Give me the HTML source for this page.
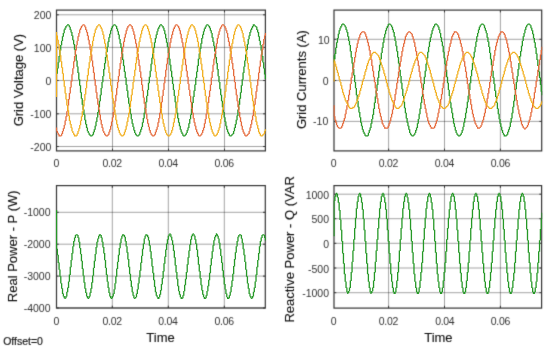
<!DOCTYPE html>
<html><head><meta charset="utf-8"><title>Scope</title>
<style>html,body{margin:0;padding:0;background:#fff;width:550px;height:352px;overflow:hidden}svg{display:block}</style>
</head><body>
<svg width="550" height="352" viewBox="0 0 550 352" font-family="Liberation Sans, Arial, sans-serif"><defs><filter id="bf" filterUnits="userSpaceOnUse" x="0" y="0" width="550" height="352" color-interpolation-filters="sRGB"><feConvolveMatrix order="3" kernelMatrix="0.0144 0.0912 0.0144 0.0912 0.5776 0.0912 0.0144 0.0912 0.0144" divisor="1" edgeMode="duplicate" preserveAlpha="true"/></filter><clipPath id="ctl"><rect x="55.90" y="9.50" width="210.10" height="142.00"/></clipPath><clipPath id="ctr"><rect x="333.40" y="9.50" width="208.90" height="142.00"/></clipPath><clipPath id="cbl"><rect x="55.90" y="185.00" width="210.00" height="123.60"/></clipPath><clipPath id="cbr"><rect x="333.40" y="185.00" width="208.80" height="123.70"/></clipPath></defs><g filter="url(#bf)"><rect width="550" height="352" fill="#fff"/><line x1="56.50" y1="14.80" x2="265.40" y2="14.80" stroke="#000" stroke-width="1.0" stroke-opacity="0.36"/>
<line x1="56.50" y1="47.40" x2="265.40" y2="47.40" stroke="#000" stroke-width="1.0" stroke-opacity="0.36"/>
<line x1="56.50" y1="80.50" x2="265.40" y2="80.50" stroke="#000" stroke-width="1.0" stroke-opacity="0.36"/>
<line x1="56.50" y1="113.80" x2="265.40" y2="113.80" stroke="#000" stroke-width="1.0" stroke-opacity="0.36"/>
<line x1="56.50" y1="146.50" x2="265.40" y2="146.50" stroke="#000" stroke-width="1.0" stroke-opacity="0.36"/>
<line x1="112.50" y1="10.10" x2="112.50" y2="150.90" stroke="#000" stroke-width="1.0" stroke-opacity="0.36"/>
<line x1="168.50" y1="10.10" x2="168.50" y2="150.90" stroke="#000" stroke-width="1.0" stroke-opacity="0.36"/>
<line x1="224.50" y1="10.10" x2="224.50" y2="150.90" stroke="#000" stroke-width="1.0" stroke-opacity="0.36"/>
<line x1="334.00" y1="39.30" x2="541.70" y2="39.30" stroke="#000" stroke-width="1.0" stroke-opacity="0.36"/>
<line x1="334.00" y1="80.50" x2="541.70" y2="80.50" stroke="#000" stroke-width="1.0" stroke-opacity="0.36"/>
<line x1="334.00" y1="121.40" x2="541.70" y2="121.40" stroke="#000" stroke-width="1.0" stroke-opacity="0.36"/>
<line x1="388.60" y1="10.10" x2="388.60" y2="150.90" stroke="#000" stroke-width="1.0" stroke-opacity="0.36"/>
<line x1="444.50" y1="10.10" x2="444.50" y2="150.90" stroke="#000" stroke-width="1.0" stroke-opacity="0.36"/>
<line x1="500.40" y1="10.10" x2="500.40" y2="150.90" stroke="#000" stroke-width="1.0" stroke-opacity="0.36"/>
<line x1="56.50" y1="212.30" x2="265.30" y2="212.30" stroke="#000" stroke-width="1.0" stroke-opacity="0.36"/>
<line x1="56.50" y1="244.20" x2="265.30" y2="244.20" stroke="#000" stroke-width="1.0" stroke-opacity="0.36"/>
<line x1="56.50" y1="276.10" x2="265.30" y2="276.10" stroke="#000" stroke-width="1.0" stroke-opacity="0.36"/>
<line x1="56.50" y1="308.00" x2="265.30" y2="308.00" stroke="#000" stroke-width="1.0" stroke-opacity="0.36"/>
<line x1="112.30" y1="185.60" x2="112.30" y2="308.00" stroke="#000" stroke-width="1.0" stroke-opacity="0.36"/>
<line x1="168.30" y1="185.60" x2="168.30" y2="308.00" stroke="#000" stroke-width="1.0" stroke-opacity="0.36"/>
<line x1="224.30" y1="185.60" x2="224.30" y2="308.00" stroke="#000" stroke-width="1.0" stroke-opacity="0.36"/>
<line x1="334.00" y1="194.20" x2="541.60" y2="194.20" stroke="#000" stroke-width="1.0" stroke-opacity="0.36"/>
<line x1="334.00" y1="218.70" x2="541.60" y2="218.70" stroke="#000" stroke-width="1.0" stroke-opacity="0.36"/>
<line x1="334.00" y1="243.30" x2="541.60" y2="243.30" stroke="#000" stroke-width="1.0" stroke-opacity="0.36"/>
<line x1="334.00" y1="268.00" x2="541.60" y2="268.00" stroke="#000" stroke-width="1.0" stroke-opacity="0.36"/>
<line x1="334.00" y1="292.70" x2="541.60" y2="292.70" stroke="#000" stroke-width="1.0" stroke-opacity="0.36"/>
<line x1="388.60" y1="185.60" x2="388.60" y2="308.10" stroke="#000" stroke-width="1.0" stroke-opacity="0.36"/>
<line x1="444.50" y1="185.60" x2="444.50" y2="308.10" stroke="#000" stroke-width="1.0" stroke-opacity="0.36"/>
<line x1="500.40" y1="185.60" x2="500.40" y2="308.10" stroke="#000" stroke-width="1.0" stroke-opacity="0.36"/>
<line x1="56.50" y1="14.80" x2="58.80" y2="14.80" stroke="#333" stroke-width="1.0"/>
<line x1="263.10" y1="14.80" x2="265.40" y2="14.80" stroke="#333" stroke-width="1.0"/>
<line x1="56.50" y1="47.40" x2="58.80" y2="47.40" stroke="#333" stroke-width="1.0"/>
<line x1="263.10" y1="47.40" x2="265.40" y2="47.40" stroke="#333" stroke-width="1.0"/>
<line x1="56.50" y1="80.50" x2="58.80" y2="80.50" stroke="#333" stroke-width="1.0"/>
<line x1="263.10" y1="80.50" x2="265.40" y2="80.50" stroke="#333" stroke-width="1.0"/>
<line x1="56.50" y1="113.80" x2="58.80" y2="113.80" stroke="#333" stroke-width="1.0"/>
<line x1="263.10" y1="113.80" x2="265.40" y2="113.80" stroke="#333" stroke-width="1.0"/>
<line x1="56.50" y1="146.50" x2="58.80" y2="146.50" stroke="#333" stroke-width="1.0"/>
<line x1="263.10" y1="146.50" x2="265.40" y2="146.50" stroke="#333" stroke-width="1.0"/>
<line x1="112.50" y1="10.10" x2="112.50" y2="12.40" stroke="#333" stroke-width="1.0"/>
<line x1="112.50" y1="148.60" x2="112.50" y2="150.90" stroke="#333" stroke-width="1.0"/>
<line x1="168.50" y1="10.10" x2="168.50" y2="12.40" stroke="#333" stroke-width="1.0"/>
<line x1="168.50" y1="148.60" x2="168.50" y2="150.90" stroke="#333" stroke-width="1.0"/>
<line x1="224.50" y1="10.10" x2="224.50" y2="12.40" stroke="#333" stroke-width="1.0"/>
<line x1="224.50" y1="148.60" x2="224.50" y2="150.90" stroke="#333" stroke-width="1.0"/>
<line x1="334.00" y1="39.30" x2="336.30" y2="39.30" stroke="#333" stroke-width="1.0"/>
<line x1="539.40" y1="39.30" x2="541.70" y2="39.30" stroke="#333" stroke-width="1.0"/>
<line x1="334.00" y1="80.50" x2="336.30" y2="80.50" stroke="#333" stroke-width="1.0"/>
<line x1="539.40" y1="80.50" x2="541.70" y2="80.50" stroke="#333" stroke-width="1.0"/>
<line x1="334.00" y1="121.40" x2="336.30" y2="121.40" stroke="#333" stroke-width="1.0"/>
<line x1="539.40" y1="121.40" x2="541.70" y2="121.40" stroke="#333" stroke-width="1.0"/>
<line x1="388.60" y1="10.10" x2="388.60" y2="12.40" stroke="#333" stroke-width="1.0"/>
<line x1="388.60" y1="148.60" x2="388.60" y2="150.90" stroke="#333" stroke-width="1.0"/>
<line x1="444.50" y1="10.10" x2="444.50" y2="12.40" stroke="#333" stroke-width="1.0"/>
<line x1="444.50" y1="148.60" x2="444.50" y2="150.90" stroke="#333" stroke-width="1.0"/>
<line x1="500.40" y1="10.10" x2="500.40" y2="12.40" stroke="#333" stroke-width="1.0"/>
<line x1="500.40" y1="148.60" x2="500.40" y2="150.90" stroke="#333" stroke-width="1.0"/>
<line x1="56.50" y1="212.30" x2="58.80" y2="212.30" stroke="#333" stroke-width="1.0"/>
<line x1="263.00" y1="212.30" x2="265.30" y2="212.30" stroke="#333" stroke-width="1.0"/>
<line x1="56.50" y1="244.20" x2="58.80" y2="244.20" stroke="#333" stroke-width="1.0"/>
<line x1="263.00" y1="244.20" x2="265.30" y2="244.20" stroke="#333" stroke-width="1.0"/>
<line x1="56.50" y1="276.10" x2="58.80" y2="276.10" stroke="#333" stroke-width="1.0"/>
<line x1="263.00" y1="276.10" x2="265.30" y2="276.10" stroke="#333" stroke-width="1.0"/>
<line x1="56.50" y1="308.00" x2="58.80" y2="308.00" stroke="#333" stroke-width="1.0"/>
<line x1="263.00" y1="308.00" x2="265.30" y2="308.00" stroke="#333" stroke-width="1.0"/>
<line x1="112.30" y1="185.60" x2="112.30" y2="187.90" stroke="#333" stroke-width="1.0"/>
<line x1="112.30" y1="305.70" x2="112.30" y2="308.00" stroke="#333" stroke-width="1.0"/>
<line x1="168.30" y1="185.60" x2="168.30" y2="187.90" stroke="#333" stroke-width="1.0"/>
<line x1="168.30" y1="305.70" x2="168.30" y2="308.00" stroke="#333" stroke-width="1.0"/>
<line x1="224.30" y1="185.60" x2="224.30" y2="187.90" stroke="#333" stroke-width="1.0"/>
<line x1="224.30" y1="305.70" x2="224.30" y2="308.00" stroke="#333" stroke-width="1.0"/>
<line x1="334.00" y1="194.20" x2="336.30" y2="194.20" stroke="#333" stroke-width="1.0"/>
<line x1="539.30" y1="194.20" x2="541.60" y2="194.20" stroke="#333" stroke-width="1.0"/>
<line x1="334.00" y1="218.70" x2="336.30" y2="218.70" stroke="#333" stroke-width="1.0"/>
<line x1="539.30" y1="218.70" x2="541.60" y2="218.70" stroke="#333" stroke-width="1.0"/>
<line x1="334.00" y1="243.30" x2="336.30" y2="243.30" stroke="#333" stroke-width="1.0"/>
<line x1="539.30" y1="243.30" x2="541.60" y2="243.30" stroke="#333" stroke-width="1.0"/>
<line x1="334.00" y1="268.00" x2="336.30" y2="268.00" stroke="#333" stroke-width="1.0"/>
<line x1="539.30" y1="268.00" x2="541.60" y2="268.00" stroke="#333" stroke-width="1.0"/>
<line x1="334.00" y1="292.70" x2="336.30" y2="292.70" stroke="#333" stroke-width="1.0"/>
<line x1="539.30" y1="292.70" x2="541.60" y2="292.70" stroke="#333" stroke-width="1.0"/>
<line x1="388.60" y1="185.60" x2="388.60" y2="187.90" stroke="#333" stroke-width="1.0"/>
<line x1="388.60" y1="305.80" x2="388.60" y2="308.10" stroke="#333" stroke-width="1.0"/>
<line x1="444.50" y1="185.60" x2="444.50" y2="187.90" stroke="#333" stroke-width="1.0"/>
<line x1="444.50" y1="305.80" x2="444.50" y2="308.10" stroke="#333" stroke-width="1.0"/>
<line x1="500.40" y1="185.60" x2="500.40" y2="187.90" stroke="#333" stroke-width="1.0"/>
<line x1="500.40" y1="305.80" x2="500.40" y2="308.10" stroke="#333" stroke-width="1.0"/>
<rect x="56.50" y="10.10" width="208.90" height="140.80" fill="none" stroke="#333333" stroke-width="1.2"/>
<rect x="334.00" y="10.10" width="207.70" height="140.80" fill="none" stroke="#333333" stroke-width="1.2"/>
<rect x="56.50" y="185.60" width="208.80" height="122.40" fill="none" stroke="#333333" stroke-width="1.2"/>
<rect x="334.00" y="185.60" width="207.60" height="122.50" fill="none" stroke="#333333" stroke-width="1.2"/>
<text transform="translate(51.30,18.60) scale(1,0.96)" font-size="10.5" fill="#333333" text-anchor="end" >200</text>
<text transform="translate(51.30,51.50) scale(1,0.96)" font-size="10.5" fill="#333333" text-anchor="end" >100</text>
<text transform="translate(51.30,84.60) scale(1,0.96)" font-size="10.5" fill="#333333" text-anchor="end" >0</text>
<text transform="translate(51.30,117.90) scale(1,0.96)" font-size="10.5" fill="#333333" text-anchor="end" >-100</text>
<text transform="translate(51.30,150.60) scale(1,0.96)" font-size="10.5" fill="#333333" text-anchor="end" >-200</text>
<text transform="translate(329.70,44.30) scale(1,0.96)" font-size="10.5" fill="#333333" text-anchor="end" >10</text>
<text transform="translate(328.50,84.75) scale(1,0.96)" font-size="10.5" fill="#333333" text-anchor="end" >0</text>
<text transform="translate(328.30,124.60) scale(1,0.96)" font-size="10.5" fill="#333333" text-anchor="end" >-10</text>
<text transform="translate(50.50,216.40) scale(1,0.96)" font-size="10.5" fill="#333333" text-anchor="end" >-1000</text>
<text transform="translate(50.50,248.30) scale(1,0.96)" font-size="10.5" fill="#333333" text-anchor="end" >-2000</text>
<text transform="translate(50.50,280.20) scale(1,0.96)" font-size="10.5" fill="#333333" text-anchor="end" >-3000</text>
<text transform="translate(50.50,312.10) scale(1,0.96)" font-size="10.5" fill="#333333" text-anchor="end" >-4000</text>
<text transform="translate(329.00,199.00) scale(1,0.96)" font-size="10.5" fill="#333333" text-anchor="end" >1000</text>
<text transform="translate(329.00,223.30) scale(1,0.96)" font-size="10.5" fill="#333333" text-anchor="end" >500</text>
<text transform="translate(329.00,247.90) scale(1,0.96)" font-size="10.5" fill="#333333" text-anchor="end" >0</text>
<text transform="translate(329.00,272.50) scale(1,0.96)" font-size="10.5" fill="#333333" text-anchor="end" >-500</text>
<text transform="translate(329.00,297.10) scale(1,0.96)" font-size="10.5" fill="#333333" text-anchor="end" >-1000</text>
<text transform="translate(56.35,166.95) scale(1,0.96)" font-size="10.5" fill="#333333" text-anchor="middle" letter-spacing="-0.3">0</text>
<text transform="translate(112.15,166.95) scale(1,0.96)" font-size="10.5" fill="#333333" text-anchor="middle" letter-spacing="-0.3">0.02</text>
<text transform="translate(168.15,166.95) scale(1,0.96)" font-size="10.5" fill="#333333" text-anchor="middle" letter-spacing="-0.3">0.04</text>
<text transform="translate(224.15,166.95) scale(1,0.96)" font-size="10.5" fill="#333333" text-anchor="middle" letter-spacing="-0.3">0.06</text>
<text transform="translate(333.45,166.95) scale(1,0.96)" font-size="10.5" fill="#333333" text-anchor="middle" letter-spacing="-0.3">0</text>
<text transform="translate(388.45,166.95) scale(1,0.96)" font-size="10.5" fill="#333333" text-anchor="middle" letter-spacing="-0.3">0.02</text>
<text transform="translate(444.45,166.95) scale(1,0.96)" font-size="10.5" fill="#333333" text-anchor="middle" letter-spacing="-0.3">0.04</text>
<text transform="translate(500.45,166.95) scale(1,0.96)" font-size="10.5" fill="#333333" text-anchor="middle" letter-spacing="-0.3">0.06</text>
<text transform="translate(56.35,324.95) scale(1,0.96)" font-size="10.5" fill="#333333" text-anchor="middle" letter-spacing="-0.3">0</text>
<text transform="translate(112.15,324.95) scale(1,0.96)" font-size="10.5" fill="#333333" text-anchor="middle" letter-spacing="-0.3">0.02</text>
<text transform="translate(167.95,324.95) scale(1,0.96)" font-size="10.5" fill="#333333" text-anchor="middle" letter-spacing="-0.3">0.04</text>
<text transform="translate(224.15,324.95) scale(1,0.96)" font-size="10.5" fill="#333333" text-anchor="middle" letter-spacing="-0.3">0.06</text>
<text transform="translate(333.45,324.95) scale(1,0.96)" font-size="10.5" fill="#333333" text-anchor="middle" letter-spacing="-0.3">0</text>
<text transform="translate(388.45,324.95) scale(1,0.96)" font-size="10.5" fill="#333333" text-anchor="middle" letter-spacing="-0.3">0.02</text>
<text transform="translate(444.75,324.95) scale(1,0.96)" font-size="10.5" fill="#333333" text-anchor="middle" letter-spacing="-0.3">0.04</text>
<text transform="translate(500.45,324.95) scale(1,0.96)" font-size="10.5" fill="#333333" text-anchor="middle" letter-spacing="-0.3">0.06</text>
<text transform="translate(23.4,80.1) rotate(-90)" font-size="13" fill="#111111" text-anchor="middle" stroke="#111111" stroke-width="0.12">Grid Voltage (V)</text>
<text transform="translate(306.0,79.6) rotate(-90)" font-size="13" fill="#111111" text-anchor="middle" stroke="#111111" stroke-width="0.12">Grid Currents (A)</text>
<text transform="translate(17.0,246.3) rotate(-90)" font-size="13" fill="#111111" text-anchor="middle" stroke="#111111" stroke-width="0.12">Real Power - P (W)</text>
<text transform="translate(294.2,322.6) rotate(-90)" font-size="13" fill="#111111" text-anchor="start" stroke="#111111" stroke-width="0.12">Reactive Power - Q (VAR</text>
<text x="160.50" y="342.20" font-size="13" fill="#111111" text-anchor="middle" stroke="#111111" stroke-width="0.12" >Time</text>
<text x="438.40" y="342.30" font-size="13" fill="#111111" text-anchor="middle" stroke="#111111" stroke-width="0.12" >Time</text>
<text transform="translate(3.20,344.50) scale(1,0.96)" font-size="10.5" fill="#1a1a1a" text-anchor="start" stroke="#1a1a1a" stroke-width="0.2" >Offset=0</text></g><g><path d="M56.65 68.15h1.3v5.60h-1.3zM57.51 62.13h1.3v6.46h-1.3zM58.37 56.11h1.3v6.46h-1.3zM59.23 50.09h1.3v6.46h-1.3zM60.09 44.93h1.3v5.60h-1.3zM60.95 40.63h1.3v4.74h-1.3zM61.81 36.33h1.3v4.74h-1.3zM62.67 32.89h1.3v3.88h-1.3zM63.53 29.45h1.3v3.88h-1.3zM64.39 27.73h1.3v2.16h-1.3zM65.25 26.01h1.3v2.16h-1.3zM66.11 25.15h1.3v1.30h-1.3zM66.97 24.29h1.3v1.30h-1.3zM67.83 24.29h1.3v1.30h-1.3zM68.69 25.15h1.3v2.16h-1.3zM69.55 26.87h1.3v3.02h-1.3zM70.41 29.45h1.3v3.02h-1.3zM71.27 32.03h1.3v3.88h-1.3zM72.13 35.47h1.3v4.74h-1.3zM72.99 39.77h1.3v4.74h-1.3zM73.85 44.07h1.3v5.60h-1.3zM74.71 49.23h1.3v5.60h-1.3zM75.57 54.39h1.3v6.46h-1.3zM76.43 60.41h1.3v6.46h-1.3zM77.29 66.43h1.3v6.46h-1.3zM78.15 72.45h1.3v7.32h-1.3zM79.01 79.33h1.3v6.46h-1.3zM79.87 85.35h1.3v7.32h-1.3zM80.73 92.23h1.3v6.46h-1.3zM81.59 98.25h1.3v6.46h-1.3zM82.45 104.27h1.3v5.60h-1.3zM83.31 109.43h1.3v5.60h-1.3zM84.17 114.59h1.3v5.60h-1.3zM85.03 119.75h1.3v4.74h-1.3zM85.89 124.05h1.3v3.88h-1.3zM86.75 127.49h1.3v3.88h-1.3zM87.61 130.93h1.3v2.16h-1.3zM88.47 132.65h1.3v2.16h-1.3zM89.33 134.37h1.3v1.30h-1.3zM90.19 135.23h1.3v1.30h-1.3zM91.05 135.23h1.3v1.30h-1.3zM91.91 134.37h1.3v1.30h-1.3zM92.77 131.79h1.3v3.02h-1.3zM93.63 129.21h1.3v3.02h-1.3zM94.49 125.77h1.3v3.88h-1.3zM95.35 121.47h1.3v4.74h-1.3zM96.21 117.17h1.3v4.74h-1.3zM97.07 112.01h1.3v5.60h-1.3zM97.93 106.85h1.3v5.60h-1.3zM98.79 100.83h1.3v6.46h-1.3zM99.65 94.81h1.3v6.46h-1.3zM100.51 87.93h1.3v7.32h-1.3zM101.37 81.91h1.3v6.46h-1.3zM102.23 75.89h1.3v6.46h-1.3zM103.09 69.01h1.3v7.32h-1.3zM103.95 62.99h1.3v6.46h-1.3zM104.81 56.97h1.3v6.46h-1.3zM105.67 51.81h1.3v5.60h-1.3zM106.53 46.65h1.3v5.60h-1.3zM107.39 41.49h1.3v5.60h-1.3zM108.25 37.19h1.3v4.74h-1.3zM109.11 33.75h1.3v3.88h-1.3zM109.97 30.31h1.3v3.88h-1.3zM110.83 27.73h1.3v3.02h-1.3zM111.69 26.01h1.3v2.16h-1.3zM112.55 25.15h1.3v1.30h-1.3zM113.41 24.29h1.3v1.30h-1.3zM114.27 24.29h1.3v1.30h-1.3zM115.13 25.15h1.3v1.30h-1.3zM115.99 26.01h1.3v3.02h-1.3zM116.85 28.59h1.3v3.02h-1.3zM117.71 31.17h1.3v3.88h-1.3zM118.57 34.61h1.3v4.74h-1.3zM119.43 38.91h1.3v4.74h-1.3zM120.29 43.21h1.3v4.74h-1.3zM121.15 47.51h1.3v6.46h-1.3zM122.01 53.53h1.3v6.46h-1.3zM122.87 59.55h1.3v6.46h-1.3zM123.73 65.57h1.3v6.46h-1.3zM124.59 71.59h1.3v6.46h-1.3zM125.45 77.61h1.3v7.32h-1.3zM126.31 84.49h1.3v6.46h-1.3zM127.17 90.51h1.3v7.32h-1.3zM128.03 97.39h1.3v6.46h-1.3zM128.89 103.41h1.3v5.60h-1.3zM129.75 108.57h1.3v5.60h-1.3zM130.61 113.73h1.3v5.60h-1.3zM131.47 118.89h1.3v4.74h-1.3zM132.33 123.19h1.3v3.88h-1.3zM133.19 126.63h1.3v3.88h-1.3zM134.05 130.07h1.3v3.02h-1.3zM134.91 132.65h1.3v2.16h-1.3zM135.77 134.37h1.3v1.30h-1.3zM136.63 135.23h1.3v1.30h-1.3zM137.49 135.23h1.3v1.30h-1.3zM138.35 134.37h1.3v1.30h-1.3zM139.21 131.79h1.3v3.02h-1.3zM140.07 129.21h1.3v3.02h-1.3zM140.93 126.63h1.3v3.02h-1.3zM141.79 122.33h1.3v4.74h-1.3zM142.65 118.03h1.3v4.74h-1.3zM143.51 112.87h1.3v5.60h-1.3zM144.37 107.71h1.3v5.60h-1.3zM145.23 101.69h1.3v6.46h-1.3zM146.09 95.67h1.3v6.46h-1.3zM146.95 89.65h1.3v6.46h-1.3zM147.81 82.77h1.3v7.32h-1.3zM148.67 76.75h1.3v6.46h-1.3zM149.53 70.73h1.3v6.46h-1.3zM150.39 63.85h1.3v7.32h-1.3zM151.25 57.83h1.3v6.46h-1.3zM152.11 52.67h1.3v5.60h-1.3zM152.97 47.51h1.3v5.60h-1.3zM153.83 42.35h1.3v5.60h-1.3zM154.69 38.05h1.3v4.74h-1.3zM155.55 34.61h1.3v3.88h-1.3zM156.41 31.17h1.3v3.88h-1.3zM157.27 28.59h1.3v3.02h-1.3zM158.13 26.87h1.3v2.16h-1.3zM158.99 25.15h1.3v2.16h-1.3zM159.85 24.29h1.3v1.30h-1.3zM160.71 24.29h1.3v1.30h-1.3zM161.57 25.15h1.3v1.30h-1.3zM162.43 26.01h1.3v2.16h-1.3zM163.29 27.73h1.3v3.02h-1.3zM164.15 30.31h1.3v3.88h-1.3zM165.01 33.75h1.3v4.74h-1.3zM165.87 38.05h1.3v4.74h-1.3zM166.73 42.35h1.3v4.74h-1.3zM167.59 46.65h1.3v6.46h-1.3zM168.45 52.67h1.3v6.46h-1.3zM169.31 58.69h1.3v6.46h-1.3zM170.17 64.71h1.3v6.46h-1.3zM171.03 70.73h1.3v6.46h-1.3zM171.89 76.75h1.3v7.32h-1.3zM172.75 83.63h1.3v6.46h-1.3zM173.61 89.65h1.3v6.46h-1.3zM174.47 95.67h1.3v6.46h-1.3zM175.33 101.69h1.3v6.46h-1.3zM176.19 107.71h1.3v5.60h-1.3zM177.05 112.87h1.3v5.60h-1.3zM177.91 118.03h1.3v4.74h-1.3zM178.77 122.33h1.3v3.88h-1.3zM179.63 125.77h1.3v3.88h-1.3zM180.49 129.21h1.3v3.02h-1.3zM181.35 131.79h1.3v2.16h-1.3zM182.21 133.51h1.3v2.16h-1.3zM183.07 135.23h1.3v1.30h-1.3zM183.93 135.23h1.3v1.30h-1.3zM184.79 134.37h1.3v1.30h-1.3zM185.65 132.65h1.3v2.16h-1.3zM186.51 130.07h1.3v3.02h-1.3zM187.37 127.49h1.3v3.02h-1.3zM188.23 123.19h1.3v4.74h-1.3zM189.09 118.89h1.3v4.74h-1.3zM189.95 114.59h1.3v4.74h-1.3zM190.81 108.57h1.3v6.46h-1.3zM191.67 102.55h1.3v6.46h-1.3zM192.53 96.53h1.3v6.46h-1.3zM193.39 90.51h1.3v6.46h-1.3zM194.25 84.49h1.3v6.46h-1.3zM195.11 77.61h1.3v7.32h-1.3zM195.97 71.59h1.3v6.46h-1.3zM196.83 65.57h1.3v6.46h-1.3zM197.69 58.69h1.3v7.32h-1.3zM198.55 53.53h1.3v5.60h-1.3zM199.41 48.37h1.3v5.60h-1.3zM200.27 43.21h1.3v5.60h-1.3zM201.13 38.05h1.3v5.60h-1.3zM201.99 34.61h1.3v3.88h-1.3zM202.85 31.17h1.3v3.88h-1.3zM203.71 28.59h1.3v3.02h-1.3zM204.57 26.87h1.3v2.16h-1.3zM205.43 25.15h1.3v2.16h-1.3zM206.29 24.29h1.3v1.30h-1.3zM207.15 24.29h1.3v1.30h-1.3zM208.01 25.15h1.3v1.30h-1.3zM208.87 26.01h1.3v2.16h-1.3zM209.73 27.73h1.3v3.02h-1.3zM210.59 30.31h1.3v3.02h-1.3zM211.45 32.89h1.3v4.74h-1.3zM212.31 37.19h1.3v4.74h-1.3zM213.17 41.49h1.3v4.74h-1.3zM214.03 45.79h1.3v5.60h-1.3zM214.89 50.95h1.3v6.46h-1.3zM215.75 56.97h1.3v6.46h-1.3zM216.61 62.99h1.3v6.46h-1.3zM217.47 69.01h1.3v7.32h-1.3zM218.33 75.89h1.3v6.46h-1.3zM219.19 81.91h1.3v7.32h-1.3zM220.05 88.79h1.3v6.46h-1.3zM220.91 94.81h1.3v6.46h-1.3zM221.77 100.83h1.3v6.46h-1.3zM222.63 106.85h1.3v5.60h-1.3zM223.49 112.01h1.3v5.60h-1.3zM224.35 117.17h1.3v4.74h-1.3zM225.21 121.47h1.3v4.74h-1.3zM226.07 125.77h1.3v3.88h-1.3zM226.93 129.21h1.3v3.02h-1.3zM227.79 131.79h1.3v2.16h-1.3zM228.65 133.51h1.3v2.16h-1.3zM229.51 135.23h1.3v1.30h-1.3zM230.37 135.23h1.3v1.30h-1.3zM231.23 134.37h1.3v1.30h-1.3zM232.09 133.51h1.3v1.30h-1.3zM232.95 130.93h1.3v3.02h-1.3zM233.81 127.49h1.3v3.88h-1.3zM234.67 124.05h1.3v3.88h-1.3zM235.53 119.75h1.3v4.74h-1.3zM236.39 115.45h1.3v4.74h-1.3zM237.25 109.43h1.3v6.46h-1.3zM238.11 104.27h1.3v5.60h-1.3zM238.97 98.25h1.3v6.46h-1.3zM239.83 92.23h1.3v6.46h-1.3zM240.69 85.35h1.3v7.32h-1.3zM241.55 79.33h1.3v6.46h-1.3zM242.41 72.45h1.3v7.32h-1.3zM243.27 66.43h1.3v6.46h-1.3zM244.13 60.41h1.3v6.46h-1.3zM244.99 54.39h1.3v6.46h-1.3zM245.85 49.23h1.3v5.60h-1.3zM246.71 44.07h1.3v5.60h-1.3zM247.57 38.91h1.3v5.60h-1.3zM248.43 35.47h1.3v3.88h-1.3zM249.29 32.03h1.3v3.88h-1.3zM250.15 29.45h1.3v3.02h-1.3zM251.01 27.73h1.3v2.16h-1.3zM251.87 26.01h1.3v2.16h-1.3zM252.73 24.29h1.3v2.16h-1.3zM253.59 24.29h1.3v1.30h-1.3zM254.45 25.15h1.3v1.30h-1.3zM255.31 26.01h1.3v1.30h-1.3zM256.17 26.87h1.3v3.02h-1.3zM257.03 29.45h1.3v3.02h-1.3zM257.89 32.03h1.3v4.74h-1.3zM258.75 36.33h1.3v4.74h-1.3zM259.61 40.63h1.3v4.74h-1.3zM260.47 44.93h1.3v5.60h-1.3zM261.33 50.09h1.3v6.46h-1.3zM262.19 56.11h1.3v6.46h-1.3zM263.05 62.13h1.3v6.46h-1.3zM263.91 68.15h1.3v6.46h-1.3zM264.77 74.17h1.3v4.74h-1.3z" fill="#259826" clip-path="url(#ctl)"/>
<path d="M55.85 127.49h1.3v3.88h-1.3zM56.71 130.93h1.3v2.16h-1.3zM57.57 132.65h1.3v2.16h-1.3zM58.43 134.37h1.3v2.16h-1.3zM59.29 135.23h1.3v1.30h-1.3zM60.15 135.23h1.3v1.30h-1.3zM61.01 133.51h1.3v2.16h-1.3zM61.87 130.93h1.3v3.02h-1.3zM62.73 128.35h1.3v3.02h-1.3zM63.59 124.91h1.3v3.88h-1.3zM64.45 120.61h1.3v4.74h-1.3zM65.31 116.31h1.3v4.74h-1.3zM66.17 111.15h1.3v5.60h-1.3zM67.03 105.13h1.3v6.46h-1.3zM67.89 99.11h1.3v6.46h-1.3zM68.75 93.09h1.3v6.46h-1.3zM69.61 87.07h1.3v6.46h-1.3zM70.47 81.05h1.3v6.46h-1.3zM71.33 74.17h1.3v7.32h-1.3zM72.19 68.15h1.3v6.46h-1.3zM73.05 61.27h1.3v7.32h-1.3zM73.91 56.11h1.3v5.60h-1.3zM74.77 50.09h1.3v6.46h-1.3zM75.63 44.93h1.3v5.60h-1.3zM76.49 40.63h1.3v4.74h-1.3zM77.35 36.33h1.3v4.74h-1.3zM78.21 32.89h1.3v3.88h-1.3zM79.07 29.45h1.3v3.88h-1.3zM79.93 27.73h1.3v2.16h-1.3zM80.79 26.01h1.3v2.16h-1.3zM81.65 25.15h1.3v1.30h-1.3zM82.51 24.29h1.3v1.30h-1.3zM83.37 24.29h1.3v1.30h-1.3zM84.23 25.15h1.3v2.16h-1.3zM85.09 26.87h1.3v3.02h-1.3zM85.95 29.45h1.3v3.02h-1.3zM86.81 32.03h1.3v3.88h-1.3zM87.67 35.47h1.3v4.74h-1.3zM88.53 39.77h1.3v4.74h-1.3zM89.39 44.07h1.3v5.60h-1.3zM90.25 49.23h1.3v5.60h-1.3zM91.11 54.39h1.3v6.46h-1.3zM91.97 60.41h1.3v6.46h-1.3zM92.83 66.43h1.3v6.46h-1.3zM93.69 72.45h1.3v7.32h-1.3zM94.55 79.33h1.3v6.46h-1.3zM95.41 85.35h1.3v7.32h-1.3zM96.27 92.23h1.3v6.46h-1.3zM97.13 98.25h1.3v6.46h-1.3zM97.99 104.27h1.3v5.60h-1.3zM98.85 109.43h1.3v5.60h-1.3zM99.71 114.59h1.3v5.60h-1.3zM100.57 119.75h1.3v4.74h-1.3zM101.43 124.05h1.3v3.88h-1.3zM102.29 127.49h1.3v3.88h-1.3zM103.15 130.93h1.3v2.16h-1.3zM104.01 132.65h1.3v2.16h-1.3zM104.87 134.37h1.3v1.30h-1.3zM105.73 135.23h1.3v1.30h-1.3zM106.59 135.23h1.3v1.30h-1.3zM107.45 134.37h1.3v1.30h-1.3zM108.31 131.79h1.3v3.02h-1.3zM109.17 129.21h1.3v3.02h-1.3zM110.03 125.77h1.3v3.88h-1.3zM110.89 121.47h1.3v4.74h-1.3zM111.75 117.17h1.3v4.74h-1.3zM112.61 112.01h1.3v5.60h-1.3zM113.47 106.85h1.3v5.60h-1.3zM114.33 100.83h1.3v6.46h-1.3zM115.19 94.81h1.3v6.46h-1.3zM116.05 87.93h1.3v7.32h-1.3zM116.91 81.91h1.3v6.46h-1.3zM117.77 75.89h1.3v6.46h-1.3zM118.63 69.01h1.3v7.32h-1.3zM119.49 62.99h1.3v6.46h-1.3zM120.35 56.97h1.3v6.46h-1.3zM121.21 51.81h1.3v5.60h-1.3zM122.07 46.65h1.3v5.60h-1.3zM122.93 41.49h1.3v5.60h-1.3zM123.79 37.19h1.3v4.74h-1.3zM124.65 33.75h1.3v3.88h-1.3zM125.51 30.31h1.3v3.88h-1.3zM126.37 27.73h1.3v3.02h-1.3zM127.23 26.01h1.3v2.16h-1.3zM128.09 25.15h1.3v1.30h-1.3zM128.95 24.29h1.3v1.30h-1.3zM129.81 24.29h1.3v1.30h-1.3zM130.67 25.15h1.3v1.30h-1.3zM131.53 26.01h1.3v3.02h-1.3zM132.39 28.59h1.3v3.02h-1.3zM133.25 31.17h1.3v3.88h-1.3zM134.11 34.61h1.3v4.74h-1.3zM134.97 38.91h1.3v4.74h-1.3zM135.83 43.21h1.3v4.74h-1.3zM136.69 47.51h1.3v6.46h-1.3zM137.55 53.53h1.3v6.46h-1.3zM138.41 59.55h1.3v6.46h-1.3zM139.27 65.57h1.3v6.46h-1.3zM140.13 71.59h1.3v6.46h-1.3zM140.99 77.61h1.3v7.32h-1.3zM141.85 84.49h1.3v6.46h-1.3zM142.71 90.51h1.3v7.32h-1.3zM143.57 97.39h1.3v6.46h-1.3zM144.43 103.41h1.3v5.60h-1.3zM145.29 108.57h1.3v5.60h-1.3zM146.15 113.73h1.3v5.60h-1.3zM147.01 118.89h1.3v4.74h-1.3zM147.87 123.19h1.3v3.88h-1.3zM148.73 126.63h1.3v3.88h-1.3zM149.59 130.07h1.3v3.02h-1.3zM150.45 132.65h1.3v2.16h-1.3zM151.31 134.37h1.3v1.30h-1.3zM152.17 135.23h1.3v1.30h-1.3zM153.03 135.23h1.3v1.30h-1.3zM153.89 134.37h1.3v1.30h-1.3zM154.75 131.79h1.3v3.02h-1.3zM155.61 129.21h1.3v3.02h-1.3zM156.47 126.63h1.3v3.02h-1.3zM157.33 122.33h1.3v4.74h-1.3zM158.19 118.03h1.3v4.74h-1.3zM159.05 112.87h1.3v5.60h-1.3zM159.91 107.71h1.3v5.60h-1.3zM160.77 101.69h1.3v6.46h-1.3zM161.63 95.67h1.3v6.46h-1.3zM162.49 89.65h1.3v6.46h-1.3zM163.35 82.77h1.3v7.32h-1.3zM164.21 76.75h1.3v6.46h-1.3zM165.07 69.87h1.3v7.32h-1.3zM165.93 63.85h1.3v6.46h-1.3zM166.79 57.83h1.3v6.46h-1.3zM167.65 52.67h1.3v5.60h-1.3zM168.51 47.51h1.3v5.60h-1.3zM169.37 42.35h1.3v5.60h-1.3zM170.23 38.05h1.3v4.74h-1.3zM171.09 34.61h1.3v3.88h-1.3zM171.95 31.17h1.3v3.88h-1.3zM172.81 28.59h1.3v3.02h-1.3zM173.67 26.87h1.3v2.16h-1.3zM174.53 25.15h1.3v2.16h-1.3zM175.39 24.29h1.3v1.30h-1.3zM176.25 24.29h1.3v1.30h-1.3zM177.11 25.15h1.3v1.30h-1.3zM177.97 26.01h1.3v2.16h-1.3zM178.83 27.73h1.3v3.02h-1.3zM179.69 30.31h1.3v3.88h-1.3zM180.55 33.75h1.3v4.74h-1.3zM181.41 38.05h1.3v4.74h-1.3zM182.27 42.35h1.3v4.74h-1.3zM183.13 46.65h1.3v6.46h-1.3zM183.99 52.67h1.3v6.46h-1.3zM184.85 58.69h1.3v6.46h-1.3zM185.71 64.71h1.3v6.46h-1.3zM186.57 70.73h1.3v6.46h-1.3zM187.43 76.75h1.3v7.32h-1.3zM188.29 83.63h1.3v6.46h-1.3zM189.15 89.65h1.3v6.46h-1.3zM190.01 95.67h1.3v6.46h-1.3zM190.87 101.69h1.3v6.46h-1.3zM191.73 107.71h1.3v5.60h-1.3zM192.59 112.87h1.3v5.60h-1.3zM193.45 118.03h1.3v4.74h-1.3zM194.31 122.33h1.3v3.88h-1.3zM195.17 125.77h1.3v3.88h-1.3zM196.03 129.21h1.3v3.02h-1.3zM196.89 131.79h1.3v2.16h-1.3zM197.75 133.51h1.3v2.16h-1.3zM198.61 135.23h1.3v1.30h-1.3zM199.47 135.23h1.3v1.30h-1.3zM200.33 134.37h1.3v1.30h-1.3zM201.19 132.65h1.3v2.16h-1.3zM202.05 130.07h1.3v3.02h-1.3zM202.91 127.49h1.3v3.02h-1.3zM203.77 123.19h1.3v4.74h-1.3zM204.63 118.89h1.3v4.74h-1.3zM205.49 113.73h1.3v5.60h-1.3zM206.35 108.57h1.3v5.60h-1.3zM207.21 102.55h1.3v6.46h-1.3zM208.07 96.53h1.3v6.46h-1.3zM208.93 90.51h1.3v6.46h-1.3zM209.79 84.49h1.3v6.46h-1.3zM210.65 77.61h1.3v7.32h-1.3zM211.51 71.59h1.3v6.46h-1.3zM212.37 64.71h1.3v7.32h-1.3zM213.23 58.69h1.3v6.46h-1.3zM214.09 53.53h1.3v5.60h-1.3zM214.95 48.37h1.3v5.60h-1.3zM215.81 43.21h1.3v5.60h-1.3zM216.67 38.05h1.3v5.60h-1.3zM217.53 34.61h1.3v3.88h-1.3zM218.39 31.17h1.3v3.88h-1.3zM219.25 28.59h1.3v3.02h-1.3zM220.11 26.87h1.3v2.16h-1.3zM220.97 25.15h1.3v2.16h-1.3zM221.83 24.29h1.3v1.30h-1.3zM222.69 24.29h1.3v1.30h-1.3zM223.55 25.15h1.3v1.30h-1.3zM224.41 26.01h1.3v2.16h-1.3zM225.27 27.73h1.3v3.02h-1.3zM226.13 30.31h1.3v3.02h-1.3zM226.99 32.89h1.3v4.74h-1.3zM227.85 37.19h1.3v4.74h-1.3zM228.71 41.49h1.3v4.74h-1.3zM229.57 45.79h1.3v5.60h-1.3zM230.43 50.95h1.3v6.46h-1.3zM231.29 56.97h1.3v6.46h-1.3zM232.15 62.99h1.3v6.46h-1.3zM233.01 69.01h1.3v7.32h-1.3zM233.87 75.89h1.3v6.46h-1.3zM234.73 81.91h1.3v7.32h-1.3zM235.59 88.79h1.3v6.46h-1.3zM236.45 94.81h1.3v6.46h-1.3zM237.31 100.83h1.3v6.46h-1.3zM238.17 106.85h1.3v5.60h-1.3zM239.03 112.01h1.3v5.60h-1.3zM239.89 117.17h1.3v4.74h-1.3zM240.75 121.47h1.3v4.74h-1.3zM241.61 125.77h1.3v3.88h-1.3zM242.47 129.21h1.3v3.02h-1.3zM243.33 131.79h1.3v2.16h-1.3zM244.19 133.51h1.3v2.16h-1.3zM245.05 135.23h1.3v1.30h-1.3zM245.91 135.23h1.3v1.30h-1.3zM246.77 134.37h1.3v1.30h-1.3zM247.63 133.51h1.3v1.30h-1.3zM248.49 130.93h1.3v3.02h-1.3zM249.35 127.49h1.3v3.88h-1.3zM250.21 124.05h1.3v3.88h-1.3zM251.07 119.75h1.3v4.74h-1.3zM251.93 115.45h1.3v4.74h-1.3zM252.79 109.43h1.3v6.46h-1.3zM253.65 104.27h1.3v5.60h-1.3zM254.51 98.25h1.3v6.46h-1.3zM255.37 91.37h1.3v7.32h-1.3zM256.23 85.35h1.3v6.46h-1.3zM257.09 79.33h1.3v6.46h-1.3zM257.95 72.45h1.3v7.32h-1.3zM258.81 66.43h1.3v6.46h-1.3zM259.67 60.41h1.3v6.46h-1.3zM260.53 54.39h1.3v6.46h-1.3zM261.39 49.23h1.3v5.60h-1.3zM262.25 44.07h1.3v5.60h-1.3zM263.11 38.91h1.3v5.60h-1.3zM263.97 35.47h1.3v3.88h-1.3zM264.83 32.89h1.3v3.02h-1.3z" fill="#e5693a" clip-path="url(#ctl)"/>
<path d="M55.85 32.03h1.3v64.94h-1.3zM56.71 35.47h1.3v4.74h-1.3zM57.57 39.77h1.3v4.74h-1.3zM58.43 44.07h1.3v5.60h-1.3zM59.29 49.23h1.3v6.46h-1.3zM60.15 55.25h1.3v6.46h-1.3zM61.01 61.27h1.3v6.46h-1.3zM61.87 67.29h1.3v6.46h-1.3zM62.73 73.31h1.3v7.32h-1.3zM63.59 80.19h1.3v6.46h-1.3zM64.45 86.21h1.3v7.32h-1.3zM65.31 93.09h1.3v6.46h-1.3zM66.17 99.11h1.3v6.46h-1.3zM67.03 105.13h1.3v5.60h-1.3zM67.89 110.29h1.3v5.60h-1.3zM68.75 115.45h1.3v5.60h-1.3zM69.61 120.61h1.3v3.88h-1.3zM70.47 124.05h1.3v3.88h-1.3zM71.33 127.49h1.3v3.88h-1.3zM72.19 130.93h1.3v2.16h-1.3zM73.05 132.65h1.3v2.16h-1.3zM73.91 134.37h1.3v2.16h-1.3zM74.77 135.23h1.3v1.30h-1.3zM75.63 135.23h1.3v1.30h-1.3zM76.49 133.51h1.3v2.16h-1.3zM77.35 130.93h1.3v3.02h-1.3zM78.21 128.35h1.3v3.02h-1.3zM79.07 124.91h1.3v3.88h-1.3zM79.93 120.61h1.3v4.74h-1.3zM80.79 116.31h1.3v4.74h-1.3zM81.65 111.15h1.3v5.60h-1.3zM82.51 105.99h1.3v5.60h-1.3zM83.37 99.97h1.3v6.46h-1.3zM84.23 93.95h1.3v6.46h-1.3zM85.09 87.93h1.3v6.46h-1.3zM85.95 81.05h1.3v7.32h-1.3zM86.81 75.03h1.3v6.46h-1.3zM87.67 68.15h1.3v7.32h-1.3zM88.53 62.13h1.3v6.46h-1.3zM89.39 56.11h1.3v6.46h-1.3zM90.25 50.95h1.3v5.60h-1.3zM91.11 45.79h1.3v5.60h-1.3zM91.97 40.63h1.3v5.60h-1.3zM92.83 36.33h1.3v4.74h-1.3zM93.69 32.89h1.3v3.88h-1.3zM94.55 29.45h1.3v3.88h-1.3zM95.41 27.73h1.3v2.16h-1.3zM96.27 26.01h1.3v2.16h-1.3zM97.13 25.15h1.3v1.30h-1.3zM97.99 24.29h1.3v1.30h-1.3zM98.85 24.29h1.3v1.30h-1.3zM99.71 25.15h1.3v2.16h-1.3zM100.57 26.87h1.3v2.16h-1.3zM101.43 28.59h1.3v3.02h-1.3zM102.29 31.17h1.3v3.88h-1.3zM103.15 34.61h1.3v4.74h-1.3zM104.01 38.91h1.3v4.74h-1.3zM104.87 43.21h1.3v5.60h-1.3zM105.73 48.37h1.3v6.46h-1.3zM106.59 54.39h1.3v6.46h-1.3zM107.45 60.41h1.3v6.46h-1.3zM108.31 66.43h1.3v6.46h-1.3zM109.17 72.45h1.3v6.46h-1.3zM110.03 78.47h1.3v7.32h-1.3zM110.89 85.35h1.3v6.46h-1.3zM111.75 91.37h1.3v7.32h-1.3zM112.61 98.25h1.3v5.60h-1.3zM113.47 103.41h1.3v6.46h-1.3zM114.33 109.43h1.3v5.60h-1.3zM115.19 114.59h1.3v5.60h-1.3zM116.05 119.75h1.3v4.74h-1.3zM116.91 124.05h1.3v3.88h-1.3zM117.77 127.49h1.3v3.02h-1.3zM118.63 130.07h1.3v3.02h-1.3zM119.49 132.65h1.3v2.16h-1.3zM120.35 134.37h1.3v1.30h-1.3zM121.21 135.23h1.3v1.30h-1.3zM122.07 135.23h1.3v1.30h-1.3zM122.93 134.37h1.3v1.30h-1.3zM123.79 131.79h1.3v3.02h-1.3zM124.65 129.21h1.3v3.02h-1.3zM125.51 125.77h1.3v3.88h-1.3zM126.37 121.47h1.3v4.74h-1.3zM127.23 117.17h1.3v4.74h-1.3zM128.09 112.87h1.3v4.74h-1.3zM128.95 106.85h1.3v6.46h-1.3zM129.81 100.83h1.3v6.46h-1.3zM130.67 94.81h1.3v6.46h-1.3zM131.53 88.79h1.3v6.46h-1.3zM132.39 81.91h1.3v7.32h-1.3zM133.25 75.89h1.3v6.46h-1.3zM134.11 69.87h1.3v6.46h-1.3zM134.97 62.99h1.3v7.32h-1.3zM135.83 56.97h1.3v6.46h-1.3zM136.69 51.81h1.3v5.60h-1.3zM137.55 46.65h1.3v5.60h-1.3zM138.41 41.49h1.3v5.60h-1.3zM139.27 37.19h1.3v4.74h-1.3zM140.13 33.75h1.3v3.88h-1.3zM140.99 30.31h1.3v3.88h-1.3zM141.85 27.73h1.3v3.02h-1.3zM142.71 26.01h1.3v2.16h-1.3zM143.57 25.15h1.3v1.30h-1.3zM144.43 24.29h1.3v1.30h-1.3zM145.29 24.29h1.3v1.30h-1.3zM146.15 25.15h1.3v1.30h-1.3zM147.01 26.01h1.3v3.02h-1.3zM147.87 28.59h1.3v3.02h-1.3zM148.73 31.17h1.3v3.88h-1.3zM149.59 34.61h1.3v3.88h-1.3zM150.45 38.05h1.3v4.74h-1.3zM151.31 42.35h1.3v5.60h-1.3zM152.17 47.51h1.3v6.46h-1.3zM153.03 53.53h1.3v5.60h-1.3zM153.89 58.69h1.3v6.46h-1.3zM154.75 64.71h1.3v7.32h-1.3zM155.61 71.59h1.3v6.46h-1.3zM156.47 77.61h1.3v7.32h-1.3zM157.33 84.49h1.3v6.46h-1.3zM158.19 90.51h1.3v6.46h-1.3zM159.05 96.53h1.3v6.46h-1.3zM159.91 102.55h1.3v6.46h-1.3zM160.77 108.57h1.3v5.60h-1.3zM161.63 113.73h1.3v5.60h-1.3zM162.49 118.89h1.3v4.74h-1.3zM163.35 123.19h1.3v3.88h-1.3zM164.21 126.63h1.3v3.88h-1.3zM165.07 130.07h1.3v3.02h-1.3zM165.93 132.65h1.3v2.16h-1.3zM166.79 134.37h1.3v1.30h-1.3zM167.65 135.23h1.3v1.30h-1.3zM168.51 135.23h1.3v1.30h-1.3zM169.37 134.37h1.3v1.30h-1.3zM170.23 132.65h1.3v2.16h-1.3zM171.09 130.07h1.3v3.02h-1.3zM171.95 126.63h1.3v3.88h-1.3zM172.81 122.33h1.3v4.74h-1.3zM173.67 118.03h1.3v4.74h-1.3zM174.53 113.73h1.3v4.74h-1.3zM175.39 107.71h1.3v6.46h-1.3zM176.25 101.69h1.3v6.46h-1.3zM177.11 95.67h1.3v6.46h-1.3zM177.97 89.65h1.3v6.46h-1.3zM178.83 83.63h1.3v6.46h-1.3zM179.69 76.75h1.3v7.32h-1.3zM180.55 70.73h1.3v6.46h-1.3zM181.41 64.71h1.3v6.46h-1.3zM182.27 58.69h1.3v6.46h-1.3zM183.13 52.67h1.3v6.46h-1.3zM183.99 47.51h1.3v5.60h-1.3zM184.85 42.35h1.3v5.60h-1.3zM185.71 38.05h1.3v4.74h-1.3zM186.57 34.61h1.3v3.88h-1.3zM187.43 31.17h1.3v3.88h-1.3zM188.29 28.59h1.3v3.02h-1.3zM189.15 26.87h1.3v2.16h-1.3zM190.01 25.15h1.3v2.16h-1.3zM190.87 24.29h1.3v1.30h-1.3zM191.73 24.29h1.3v1.30h-1.3zM192.59 25.15h1.3v1.30h-1.3zM193.45 26.01h1.3v2.16h-1.3zM194.31 27.73h1.3v3.02h-1.3zM195.17 30.31h1.3v3.88h-1.3zM196.03 33.75h1.3v3.88h-1.3zM196.89 37.19h1.3v4.74h-1.3zM197.75 41.49h1.3v5.60h-1.3zM198.61 46.65h1.3v5.60h-1.3zM199.47 51.81h1.3v6.46h-1.3zM200.33 57.83h1.3v6.46h-1.3zM201.19 63.85h1.3v6.46h-1.3zM202.05 69.87h1.3v7.32h-1.3zM202.91 76.75h1.3v6.46h-1.3zM203.77 82.77h1.3v7.32h-1.3zM204.63 89.65h1.3v6.46h-1.3zM205.49 95.67h1.3v6.46h-1.3zM206.35 101.69h1.3v6.46h-1.3zM207.21 107.71h1.3v5.60h-1.3zM208.07 112.87h1.3v5.60h-1.3zM208.93 118.03h1.3v4.74h-1.3zM209.79 122.33h1.3v3.88h-1.3zM210.65 125.77h1.3v3.88h-1.3zM211.51 129.21h1.3v3.02h-1.3zM212.37 131.79h1.3v2.16h-1.3zM213.23 133.51h1.3v2.16h-1.3zM214.09 135.23h1.3v1.30h-1.3zM214.95 135.23h1.3v1.30h-1.3zM215.81 134.37h1.3v1.30h-1.3zM216.67 132.65h1.3v2.16h-1.3zM217.53 130.07h1.3v3.02h-1.3zM218.39 127.49h1.3v3.02h-1.3zM219.25 123.19h1.3v4.74h-1.3zM220.11 118.89h1.3v4.74h-1.3zM220.97 114.59h1.3v4.74h-1.3zM221.83 109.43h1.3v5.60h-1.3zM222.69 103.41h1.3v6.46h-1.3zM223.55 97.39h1.3v6.46h-1.3zM224.41 91.37h1.3v6.46h-1.3zM225.27 84.49h1.3v7.32h-1.3zM226.13 78.47h1.3v6.46h-1.3zM226.99 71.59h1.3v7.32h-1.3zM227.85 65.57h1.3v6.46h-1.3zM228.71 59.55h1.3v6.46h-1.3zM229.57 53.53h1.3v6.46h-1.3zM230.43 48.37h1.3v5.60h-1.3zM231.29 43.21h1.3v5.60h-1.3zM232.15 38.91h1.3v4.74h-1.3zM233.01 34.61h1.3v4.74h-1.3zM233.87 31.17h1.3v3.88h-1.3zM234.73 28.59h1.3v3.02h-1.3zM235.59 26.87h1.3v2.16h-1.3zM236.45 25.15h1.3v2.16h-1.3zM237.31 24.29h1.3v1.30h-1.3zM238.17 24.29h1.3v1.30h-1.3zM239.03 25.15h1.3v1.30h-1.3zM239.89 26.01h1.3v2.16h-1.3zM240.75 27.73h1.3v3.02h-1.3zM241.61 30.31h1.3v3.02h-1.3zM242.47 32.89h1.3v4.74h-1.3zM243.33 37.19h1.3v4.74h-1.3zM244.19 41.49h1.3v4.74h-1.3zM245.05 45.79h1.3v5.60h-1.3zM245.91 50.95h1.3v6.46h-1.3zM246.77 56.97h1.3v6.46h-1.3zM247.63 62.99h1.3v6.46h-1.3zM248.49 69.01h1.3v6.46h-1.3zM249.35 75.03h1.3v7.32h-1.3zM250.21 81.91h1.3v6.46h-1.3zM251.07 87.93h1.3v7.32h-1.3zM251.93 94.81h1.3v6.46h-1.3zM252.79 100.83h1.3v5.60h-1.3zM253.65 105.99h1.3v5.60h-1.3zM254.51 111.15h1.3v5.60h-1.3zM255.37 116.31h1.3v5.60h-1.3zM256.23 121.47h1.3v3.88h-1.3zM257.09 124.91h1.3v3.88h-1.3zM257.95 128.35h1.3v3.88h-1.3zM258.81 131.79h1.3v2.16h-1.3zM259.67 133.51h1.3v2.16h-1.3zM260.53 135.23h1.3v1.30h-1.3zM261.39 135.23h1.3v1.30h-1.3zM262.25 134.37h1.3v1.30h-1.3zM263.11 133.51h1.3v1.30h-1.3zM263.97 130.93h1.3v3.02h-1.3zM264.83 129.21h1.3v2.16h-1.3z" fill="#f1ae1c" clip-path="url(#ctl)"/>
<path d="M333.35 55.25h1.3v7.32h-1.3zM334.21 53.53h1.3v5.60h-1.3zM335.07 47.51h1.3v6.46h-1.3zM335.93 42.35h1.3v5.60h-1.3zM336.79 38.05h1.3v4.74h-1.3zM337.65 33.75h1.3v4.74h-1.3zM338.51 30.31h1.3v3.88h-1.3zM339.37 27.73h1.3v3.02h-1.3zM340.23 26.01h1.3v2.16h-1.3zM341.09 24.29h1.3v2.16h-1.3zM341.95 23.43h1.3v1.30h-1.3zM342.81 23.43h1.3v1.30h-1.3zM343.67 24.29h1.3v1.30h-1.3zM344.53 25.15h1.3v2.16h-1.3zM345.39 26.87h1.3v3.02h-1.3zM346.25 29.45h1.3v3.02h-1.3zM347.11 32.03h1.3v4.74h-1.3zM347.97 36.33h1.3v4.74h-1.3zM348.83 40.63h1.3v4.74h-1.3zM349.69 44.93h1.3v6.46h-1.3zM350.55 50.95h1.3v6.46h-1.3zM351.41 56.97h1.3v6.46h-1.3zM352.27 62.99h1.3v6.46h-1.3zM353.13 69.01h1.3v6.46h-1.3zM353.99 75.03h1.3v7.32h-1.3zM354.85 81.91h1.3v6.46h-1.3zM355.71 87.93h1.3v7.32h-1.3zM356.57 94.81h1.3v6.46h-1.3zM357.43 100.83h1.3v6.46h-1.3zM358.29 106.85h1.3v5.60h-1.3zM359.15 112.01h1.3v5.60h-1.3zM360.01 117.17h1.3v5.60h-1.3zM360.87 122.33h1.3v3.88h-1.3zM361.73 125.77h1.3v3.88h-1.3zM362.59 129.21h1.3v3.02h-1.3zM363.45 131.79h1.3v2.16h-1.3zM364.31 133.51h1.3v2.16h-1.3zM365.17 135.23h1.3v1.30h-1.3zM366.03 135.23h1.3v1.30h-1.3zM366.89 135.23h1.3v1.30h-1.3zM367.75 132.65h1.3v3.02h-1.3zM368.61 130.07h1.3v3.02h-1.3zM369.47 127.49h1.3v3.02h-1.3zM370.33 123.19h1.3v4.74h-1.3zM371.19 118.89h1.3v4.74h-1.3zM372.05 114.59h1.3v4.74h-1.3zM372.91 108.57h1.3v6.46h-1.3zM373.77 102.55h1.3v6.46h-1.3zM374.63 96.53h1.3v6.46h-1.3zM375.49 90.51h1.3v6.46h-1.3zM376.35 84.49h1.3v6.46h-1.3zM377.21 77.61h1.3v7.32h-1.3zM378.07 70.73h1.3v7.32h-1.3zM378.93 64.71h1.3v6.46h-1.3zM379.79 58.69h1.3v6.46h-1.3zM380.65 52.67h1.3v6.46h-1.3zM381.51 47.51h1.3v5.60h-1.3zM382.37 42.35h1.3v5.60h-1.3zM383.23 37.19h1.3v5.60h-1.3zM384.09 33.75h1.3v3.88h-1.3zM384.95 30.31h1.3v3.88h-1.3zM385.81 27.73h1.3v3.02h-1.3zM386.67 26.01h1.3v2.16h-1.3zM387.53 24.29h1.3v2.16h-1.3zM388.39 23.43h1.3v1.30h-1.3zM389.25 23.43h1.3v1.30h-1.3zM390.11 24.29h1.3v1.30h-1.3zM390.97 25.15h1.3v2.16h-1.3zM391.83 26.87h1.3v3.02h-1.3zM392.69 29.45h1.3v3.02h-1.3zM393.55 32.03h1.3v4.74h-1.3zM394.41 36.33h1.3v4.74h-1.3zM395.27 40.63h1.3v5.60h-1.3zM396.13 45.79h1.3v5.60h-1.3zM396.99 50.95h1.3v6.46h-1.3zM397.85 56.97h1.3v6.46h-1.3zM398.71 62.99h1.3v7.32h-1.3zM399.57 69.87h1.3v6.46h-1.3zM400.43 75.89h1.3v7.32h-1.3zM401.29 82.77h1.3v6.46h-1.3zM402.15 88.79h1.3v7.32h-1.3zM403.01 95.67h1.3v6.46h-1.3zM403.87 101.69h1.3v6.46h-1.3zM404.73 107.71h1.3v5.60h-1.3zM405.59 112.87h1.3v5.60h-1.3zM406.45 118.03h1.3v4.74h-1.3zM407.31 122.33h1.3v3.88h-1.3zM408.17 125.77h1.3v3.88h-1.3zM409.03 129.21h1.3v3.88h-1.3zM409.89 132.65h1.3v2.16h-1.3zM410.75 134.37h1.3v1.30h-1.3zM411.61 135.23h1.3v1.30h-1.3zM412.47 135.23h1.3v1.30h-1.3zM413.33 134.37h1.3v1.30h-1.3zM414.19 132.65h1.3v2.16h-1.3zM415.05 130.07h1.3v3.02h-1.3zM415.91 127.49h1.3v3.02h-1.3zM416.77 123.19h1.3v4.74h-1.3zM417.63 118.89h1.3v4.74h-1.3zM418.49 113.73h1.3v5.60h-1.3zM419.35 108.57h1.3v5.60h-1.3zM420.21 102.55h1.3v6.46h-1.3zM421.07 96.53h1.3v6.46h-1.3zM421.93 89.65h1.3v7.32h-1.3zM422.79 83.63h1.3v6.46h-1.3zM423.65 76.75h1.3v7.32h-1.3zM424.51 70.73h1.3v6.46h-1.3zM425.37 63.85h1.3v7.32h-1.3zM426.23 57.83h1.3v6.46h-1.3zM427.09 51.81h1.3v6.46h-1.3zM427.95 46.65h1.3v5.60h-1.3zM428.81 41.49h1.3v5.60h-1.3zM429.67 37.19h1.3v4.74h-1.3zM430.53 33.75h1.3v3.88h-1.3zM431.39 30.31h1.3v3.88h-1.3zM432.25 27.73h1.3v3.02h-1.3zM433.11 26.01h1.3v2.16h-1.3zM433.97 24.29h1.3v2.16h-1.3zM434.83 23.43h1.3v1.30h-1.3zM435.69 23.43h1.3v1.30h-1.3zM436.55 24.29h1.3v1.30h-1.3zM437.41 25.15h1.3v2.16h-1.3zM438.27 26.87h1.3v3.02h-1.3zM439.13 29.45h1.3v3.88h-1.3zM439.99 32.89h1.3v4.74h-1.3zM440.85 37.19h1.3v4.74h-1.3zM441.71 41.49h1.3v4.74h-1.3zM442.57 45.79h1.3v6.46h-1.3zM443.43 51.81h1.3v6.46h-1.3zM444.29 57.83h1.3v6.46h-1.3zM445.15 63.85h1.3v6.46h-1.3zM446.01 69.87h1.3v7.32h-1.3zM446.87 76.75h1.3v6.46h-1.3zM447.73 82.77h1.3v7.32h-1.3zM448.59 89.65h1.3v6.46h-1.3zM449.45 95.67h1.3v7.32h-1.3zM450.31 102.55h1.3v5.60h-1.3zM451.17 107.71h1.3v5.60h-1.3zM452.03 112.87h1.3v5.60h-1.3zM452.89 118.03h1.3v5.60h-1.3zM453.75 123.19h1.3v3.88h-1.3zM454.61 126.63h1.3v3.88h-1.3zM455.47 130.07h1.3v3.02h-1.3zM456.33 132.65h1.3v2.16h-1.3zM457.19 134.37h1.3v1.30h-1.3zM458.05 135.23h1.3v1.30h-1.3zM458.91 135.23h1.3v1.30h-1.3zM459.77 134.37h1.3v1.30h-1.3zM460.63 132.65h1.3v2.16h-1.3zM461.49 130.07h1.3v3.02h-1.3zM462.35 126.63h1.3v3.88h-1.3zM463.21 122.33h1.3v4.74h-1.3zM464.07 118.03h1.3v4.74h-1.3zM464.93 112.87h1.3v5.60h-1.3zM465.79 107.71h1.3v5.60h-1.3zM466.65 101.69h1.3v6.46h-1.3zM467.51 95.67h1.3v6.46h-1.3zM468.37 89.65h1.3v6.46h-1.3zM469.23 82.77h1.3v7.32h-1.3zM470.09 75.89h1.3v7.32h-1.3zM470.95 69.87h1.3v6.46h-1.3zM471.81 62.99h1.3v7.32h-1.3zM472.67 56.97h1.3v6.46h-1.3zM473.53 51.81h1.3v5.60h-1.3zM474.39 46.65h1.3v5.60h-1.3zM475.25 41.49h1.3v5.60h-1.3zM476.11 36.33h1.3v5.60h-1.3zM476.97 32.89h1.3v3.88h-1.3zM477.83 29.45h1.3v3.88h-1.3zM478.69 26.87h1.3v3.02h-1.3zM479.55 25.15h1.3v2.16h-1.3zM480.41 24.29h1.3v1.30h-1.3zM481.27 23.43h1.3v1.30h-1.3zM482.13 23.43h1.3v1.30h-1.3zM482.99 24.29h1.3v1.30h-1.3zM483.85 25.15h1.3v3.02h-1.3zM484.71 27.73h1.3v3.02h-1.3zM485.57 30.31h1.3v3.02h-1.3zM486.43 32.89h1.3v4.74h-1.3zM487.29 37.19h1.3v4.74h-1.3zM488.15 41.49h1.3v5.60h-1.3zM489.01 46.65h1.3v6.46h-1.3zM489.87 52.67h1.3v6.46h-1.3zM490.73 58.69h1.3v6.46h-1.3zM491.59 64.71h1.3v6.46h-1.3zM492.45 70.73h1.3v7.32h-1.3zM493.31 77.61h1.3v6.46h-1.3zM494.17 83.63h1.3v7.32h-1.3zM495.03 90.51h1.3v6.46h-1.3zM495.89 96.53h1.3v6.46h-1.3zM496.75 102.55h1.3v6.46h-1.3zM497.61 108.57h1.3v5.60h-1.3zM498.47 113.73h1.3v5.60h-1.3zM499.33 118.89h1.3v4.74h-1.3zM500.19 123.19h1.3v3.88h-1.3zM501.05 126.63h1.3v3.88h-1.3zM501.91 130.07h1.3v3.02h-1.3zM502.77 132.65h1.3v2.16h-1.3zM503.63 134.37h1.3v2.16h-1.3zM504.49 135.23h1.3v1.30h-1.3zM505.35 135.23h1.3v1.30h-1.3zM506.21 134.37h1.3v1.30h-1.3zM507.07 131.79h1.3v3.02h-1.3zM507.93 129.21h1.3v3.02h-1.3zM508.79 126.63h1.3v3.02h-1.3zM509.65 122.33h1.3v4.74h-1.3zM510.51 118.03h1.3v4.74h-1.3zM511.37 112.87h1.3v5.60h-1.3zM512.23 106.85h1.3v6.46h-1.3zM513.09 100.83h1.3v6.46h-1.3zM513.95 94.81h1.3v6.46h-1.3zM514.81 88.79h1.3v6.46h-1.3zM515.67 81.91h1.3v7.32h-1.3zM516.53 75.89h1.3v6.46h-1.3zM517.39 69.01h1.3v7.32h-1.3zM518.25 62.99h1.3v6.46h-1.3zM519.11 56.11h1.3v7.32h-1.3zM519.97 50.95h1.3v5.60h-1.3zM520.83 45.79h1.3v5.60h-1.3zM521.69 40.63h1.3v5.60h-1.3zM522.55 36.33h1.3v4.74h-1.3zM523.41 32.89h1.3v3.88h-1.3zM524.27 29.45h1.3v3.88h-1.3zM525.13 26.87h1.3v3.02h-1.3zM525.99 25.15h1.3v2.16h-1.3zM526.85 24.29h1.3v1.30h-1.3zM527.71 23.43h1.3v1.30h-1.3zM528.57 23.43h1.3v1.30h-1.3zM529.43 24.29h1.3v1.30h-1.3zM530.29 25.15h1.3v3.02h-1.3zM531.15 27.73h1.3v3.02h-1.3zM532.01 30.31h1.3v3.88h-1.3zM532.87 33.75h1.3v4.74h-1.3zM533.73 38.05h1.3v4.74h-1.3zM534.59 42.35h1.3v5.60h-1.3zM535.45 47.51h1.3v6.46h-1.3zM536.31 53.53h1.3v6.46h-1.3zM537.17 59.55h1.3v6.46h-1.3zM538.03 65.57h1.3v6.46h-1.3zM538.89 71.59h1.3v6.46h-1.3zM539.75 77.61h1.3v7.32h-1.3zM540.61 84.49h1.3v7.32h-1.3zM541.47 91.37h1.3v3.88h-1.3z" fill="#259826" clip-path="url(#ctr)"/>
<path d="M333.35 105.13h1.3v11.62h-1.3zM334.21 116.31h1.3v3.88h-1.3zM335.07 119.75h1.3v3.02h-1.3zM335.93 122.33h1.3v3.02h-1.3zM336.79 124.91h1.3v2.16h-1.3zM337.65 126.63h1.3v1.30h-1.3zM338.51 127.49h1.3v1.30h-1.3zM339.37 127.49h1.3v1.30h-1.3zM340.23 127.49h1.3v1.30h-1.3zM341.09 125.77h1.3v2.16h-1.3zM341.95 123.19h1.3v3.02h-1.3zM342.81 120.61h1.3v3.02h-1.3zM343.67 118.03h1.3v3.02h-1.3zM344.53 113.73h1.3v4.74h-1.3zM345.39 109.43h1.3v4.74h-1.3zM346.25 105.13h1.3v4.74h-1.3zM347.11 99.97h1.3v5.60h-1.3zM347.97 94.81h1.3v5.60h-1.3zM348.83 89.65h1.3v5.60h-1.3zM349.69 83.63h1.3v6.46h-1.3zM350.55 77.61h1.3v6.46h-1.3zM351.41 72.45h1.3v5.60h-1.3zM352.27 67.29h1.3v5.60h-1.3zM353.13 62.13h1.3v5.60h-1.3zM353.99 56.97h1.3v5.60h-1.3zM354.85 51.81h1.3v5.60h-1.3zM355.71 47.51h1.3v4.74h-1.3zM356.57 43.21h1.3v4.74h-1.3zM357.43 39.77h1.3v3.88h-1.3zM358.29 37.19h1.3v3.02h-1.3zM359.15 34.61h1.3v3.02h-1.3zM360.01 32.89h1.3v2.16h-1.3zM360.87 32.03h1.3v1.30h-1.3zM361.73 31.17h1.3v1.30h-1.3zM362.59 31.17h1.3v1.30h-1.3zM363.45 31.17h1.3v1.30h-1.3zM364.31 32.03h1.3v2.16h-1.3zM365.17 33.75h1.3v3.02h-1.3zM366.03 36.33h1.3v3.02h-1.3zM366.89 38.91h1.3v3.88h-1.3zM367.75 42.35h1.3v3.88h-1.3zM368.61 45.79h1.3v4.74h-1.3zM369.47 50.09h1.3v5.60h-1.3zM370.33 55.25h1.3v4.74h-1.3zM371.19 59.55h1.3v6.46h-1.3zM372.05 65.57h1.3v5.60h-1.3zM372.91 70.73h1.3v6.46h-1.3zM373.77 76.75h1.3v5.60h-1.3zM374.63 81.91h1.3v6.46h-1.3zM375.49 87.93h1.3v5.60h-1.3zM376.35 93.09h1.3v5.60h-1.3zM377.21 98.25h1.3v5.60h-1.3zM378.07 103.41h1.3v5.60h-1.3zM378.93 108.57h1.3v4.74h-1.3zM379.79 112.87h1.3v3.88h-1.3zM380.65 116.31h1.3v3.88h-1.3zM381.51 119.75h1.3v3.88h-1.3zM382.37 123.19h1.3v2.16h-1.3zM383.23 124.91h1.3v2.16h-1.3zM384.09 126.63h1.3v2.16h-1.3zM384.95 127.49h1.3v1.30h-1.3zM385.81 127.49h1.3v1.30h-1.3zM386.67 127.49h1.3v1.30h-1.3zM387.53 125.77h1.3v2.16h-1.3zM388.39 123.19h1.3v3.02h-1.3zM389.25 120.61h1.3v3.02h-1.3zM390.11 117.17h1.3v3.88h-1.3zM390.97 113.73h1.3v3.88h-1.3zM391.83 109.43h1.3v4.74h-1.3zM392.69 104.27h1.3v5.60h-1.3zM393.55 99.97h1.3v4.74h-1.3zM394.41 93.95h1.3v6.46h-1.3zM395.27 88.79h1.3v5.60h-1.3zM396.13 82.77h1.3v6.46h-1.3zM396.99 77.61h1.3v5.60h-1.3zM397.85 71.59h1.3v6.46h-1.3zM398.71 66.43h1.3v5.60h-1.3zM399.57 61.27h1.3v5.60h-1.3zM400.43 56.11h1.3v5.60h-1.3zM401.29 50.95h1.3v5.60h-1.3zM402.15 46.65h1.3v4.74h-1.3zM403.01 43.21h1.3v3.88h-1.3zM403.87 39.77h1.3v3.88h-1.3zM404.73 36.33h1.3v3.88h-1.3zM405.59 34.61h1.3v2.16h-1.3zM406.45 32.89h1.3v2.16h-1.3zM407.31 32.03h1.3v1.30h-1.3zM408.17 31.17h1.3v1.30h-1.3zM409.03 31.17h1.3v1.30h-1.3zM409.89 32.03h1.3v1.30h-1.3zM410.75 32.89h1.3v1.30h-1.3zM411.61 33.75h1.3v3.02h-1.3zM412.47 36.33h1.3v3.02h-1.3zM413.33 38.91h1.3v3.88h-1.3zM414.19 42.35h1.3v4.74h-1.3zM415.05 46.65h1.3v4.74h-1.3zM415.91 50.95h1.3v4.74h-1.3zM416.77 55.25h1.3v5.60h-1.3zM417.63 60.41h1.3v5.60h-1.3zM418.49 65.57h1.3v6.46h-1.3zM419.35 71.59h1.3v5.60h-1.3zM420.21 76.75h1.3v6.46h-1.3zM421.07 82.77h1.3v5.60h-1.3zM421.93 87.93h1.3v6.46h-1.3zM422.79 93.95h1.3v5.60h-1.3zM423.65 99.11h1.3v5.60h-1.3zM424.51 104.27h1.3v4.74h-1.3zM425.37 108.57h1.3v4.74h-1.3zM426.23 112.87h1.3v4.74h-1.3zM427.09 117.17h1.3v3.88h-1.3zM427.95 120.61h1.3v3.02h-1.3zM428.81 123.19h1.3v2.16h-1.3zM429.67 124.91h1.3v2.16h-1.3zM430.53 126.63h1.3v2.16h-1.3zM431.39 127.49h1.3v1.30h-1.3zM432.25 127.49h1.3v1.30h-1.3zM433.11 127.49h1.3v1.30h-1.3zM433.97 125.77h1.3v2.16h-1.3zM434.83 123.19h1.3v3.02h-1.3zM435.69 120.61h1.3v3.02h-1.3zM436.55 117.17h1.3v3.88h-1.3zM437.41 112.87h1.3v4.74h-1.3zM438.27 108.57h1.3v4.74h-1.3zM439.13 104.27h1.3v4.74h-1.3zM439.99 99.11h1.3v5.60h-1.3zM440.85 93.95h1.3v5.60h-1.3zM441.71 87.93h1.3v6.46h-1.3zM442.57 82.77h1.3v5.60h-1.3zM443.43 76.75h1.3v6.46h-1.3zM444.29 71.59h1.3v5.60h-1.3zM445.15 65.57h1.3v6.46h-1.3zM446.01 60.41h1.3v5.60h-1.3zM446.87 55.25h1.3v5.60h-1.3zM447.73 50.95h1.3v4.74h-1.3zM448.59 46.65h1.3v4.74h-1.3zM449.45 43.21h1.3v3.88h-1.3zM450.31 39.77h1.3v3.88h-1.3zM451.17 36.33h1.3v3.88h-1.3zM452.03 34.61h1.3v2.16h-1.3zM452.89 32.89h1.3v2.16h-1.3zM453.75 31.17h1.3v2.16h-1.3zM454.61 31.17h1.3v1.30h-1.3zM455.47 31.17h1.3v1.30h-1.3zM456.33 32.03h1.3v1.30h-1.3zM457.19 32.89h1.3v2.16h-1.3zM458.05 34.61h1.3v3.02h-1.3zM458.91 37.19h1.3v3.02h-1.3zM459.77 39.77h1.3v3.88h-1.3zM460.63 43.21h1.3v3.88h-1.3zM461.49 46.65h1.3v4.74h-1.3zM462.35 50.95h1.3v5.60h-1.3zM463.21 56.11h1.3v5.60h-1.3zM464.07 61.27h1.3v5.60h-1.3zM464.93 66.43h1.3v5.60h-1.3zM465.79 71.59h1.3v6.46h-1.3zM466.65 77.61h1.3v6.46h-1.3zM467.51 83.63h1.3v5.60h-1.3zM468.37 88.79h1.3v5.60h-1.3zM469.23 93.95h1.3v5.60h-1.3zM470.09 99.11h1.3v5.60h-1.3zM470.95 104.27h1.3v5.60h-1.3zM471.81 109.43h1.3v4.74h-1.3zM472.67 113.73h1.3v3.88h-1.3zM473.53 117.17h1.3v3.88h-1.3zM474.39 120.61h1.3v3.02h-1.3zM475.25 123.19h1.3v2.16h-1.3zM476.11 124.91h1.3v2.16h-1.3zM476.97 126.63h1.3v2.16h-1.3zM477.83 127.49h1.3v1.30h-1.3zM478.69 127.49h1.3v1.30h-1.3zM479.55 126.63h1.3v1.30h-1.3zM480.41 124.91h1.3v2.16h-1.3zM481.27 122.33h1.3v3.02h-1.3zM482.13 119.75h1.3v3.02h-1.3zM482.99 116.31h1.3v3.88h-1.3zM483.85 112.87h1.3v3.88h-1.3zM484.71 108.57h1.3v4.74h-1.3zM485.57 103.41h1.3v5.60h-1.3zM486.43 98.25h1.3v5.60h-1.3zM487.29 93.09h1.3v5.60h-1.3zM488.15 87.93h1.3v5.60h-1.3zM489.01 81.91h1.3v6.46h-1.3zM489.87 75.89h1.3v6.46h-1.3zM490.73 70.73h1.3v5.60h-1.3zM491.59 65.57h1.3v5.60h-1.3zM492.45 60.41h1.3v5.60h-1.3zM493.31 55.25h1.3v5.60h-1.3zM494.17 50.09h1.3v5.60h-1.3zM495.03 45.79h1.3v4.74h-1.3zM495.89 42.35h1.3v3.88h-1.3zM496.75 38.91h1.3v3.88h-1.3zM497.61 36.33h1.3v3.02h-1.3zM498.47 34.61h1.3v2.16h-1.3zM499.33 32.89h1.3v2.16h-1.3zM500.19 31.17h1.3v2.16h-1.3zM501.05 31.17h1.3v1.30h-1.3zM501.91 31.17h1.3v1.30h-1.3zM502.77 32.03h1.3v1.30h-1.3zM503.63 32.89h1.3v2.16h-1.3zM504.49 34.61h1.3v3.02h-1.3zM505.35 37.19h1.3v3.02h-1.3zM506.21 39.77h1.3v3.88h-1.3zM507.07 43.21h1.3v4.74h-1.3zM507.93 47.51h1.3v4.74h-1.3zM508.79 51.81h1.3v4.74h-1.3zM509.65 56.11h1.3v5.60h-1.3zM510.51 61.27h1.3v6.46h-1.3zM511.37 67.29h1.3v5.60h-1.3zM512.23 72.45h1.3v6.46h-1.3zM513.09 78.47h1.3v5.60h-1.3zM513.95 83.63h1.3v6.46h-1.3zM514.81 89.65h1.3v5.60h-1.3zM515.67 94.81h1.3v5.60h-1.3zM516.53 99.97h1.3v5.60h-1.3zM517.39 105.13h1.3v4.74h-1.3zM518.25 109.43h1.3v4.74h-1.3zM519.11 113.73h1.3v3.88h-1.3zM519.97 117.17h1.3v3.88h-1.3zM520.83 120.61h1.3v3.88h-1.3zM521.69 124.05h1.3v2.16h-1.3zM522.55 125.77h1.3v2.16h-1.3zM523.41 127.49h1.3v1.30h-1.3zM524.27 128.35h1.3v1.30h-1.3zM525.13 127.49h1.3v1.30h-1.3zM525.99 126.63h1.3v1.30h-1.3zM526.85 124.91h1.3v2.16h-1.3zM527.71 122.33h1.3v3.02h-1.3zM528.57 119.75h1.3v3.02h-1.3zM529.43 116.31h1.3v3.88h-1.3zM530.29 112.01h1.3v4.74h-1.3zM531.15 107.71h1.3v4.74h-1.3zM532.01 103.41h1.3v4.74h-1.3zM532.87 98.25h1.3v5.60h-1.3zM533.73 92.23h1.3v6.46h-1.3zM534.59 87.07h1.3v5.60h-1.3zM535.45 81.05h1.3v6.46h-1.3zM536.31 75.89h1.3v5.60h-1.3zM537.17 69.87h1.3v6.46h-1.3zM538.03 64.71h1.3v5.60h-1.3zM538.89 59.55h1.3v5.60h-1.3zM539.75 54.39h1.3v5.60h-1.3zM540.61 50.09h1.3v4.74h-1.3zM541.47 46.65h1.3v3.88h-1.3z" fill="#e5693a" clip-path="url(#ctr)"/>
<path d="M333.35 59.55h1.3v21.94h-1.3zM334.21 61.27h1.3v3.02h-1.3zM335.07 63.85h1.3v3.02h-1.3zM335.93 66.43h1.3v3.88h-1.3zM336.79 69.87h1.3v3.02h-1.3zM337.65 72.45h1.3v3.88h-1.3zM338.51 75.89h1.3v3.88h-1.3zM339.37 79.33h1.3v3.02h-1.3zM340.23 81.91h1.3v3.88h-1.3zM341.09 85.35h1.3v3.88h-1.3zM341.95 88.79h1.3v3.88h-1.3zM342.81 92.23h1.3v3.02h-1.3zM343.67 94.81h1.3v3.02h-1.3zM344.53 97.39h1.3v3.02h-1.3zM345.39 99.97h1.3v2.16h-1.3zM346.25 101.69h1.3v2.16h-1.3zM347.11 103.41h1.3v2.16h-1.3zM347.97 105.13h1.3v2.16h-1.3zM348.83 106.85h1.3v1.30h-1.3zM349.69 107.71h1.3v1.30h-1.3zM350.55 107.71h1.3v1.30h-1.3zM351.41 107.71h1.3v1.30h-1.3zM352.27 106.85h1.3v1.30h-1.3zM353.13 106.85h1.3v1.30h-1.3zM353.99 105.13h1.3v2.16h-1.3zM354.85 103.41h1.3v2.16h-1.3zM355.71 101.69h1.3v2.16h-1.3zM356.57 99.11h1.3v3.02h-1.3zM357.43 96.53h1.3v3.02h-1.3zM358.29 93.95h1.3v3.02h-1.3zM359.15 90.51h1.3v3.88h-1.3zM360.01 87.93h1.3v3.02h-1.3zM360.87 84.49h1.3v3.88h-1.3zM361.73 81.05h1.3v3.88h-1.3zM362.59 78.47h1.3v3.02h-1.3zM363.45 75.03h1.3v3.88h-1.3zM364.31 71.59h1.3v3.88h-1.3zM365.17 69.01h1.3v3.02h-1.3zM366.03 65.57h1.3v3.88h-1.3zM366.89 62.99h1.3v3.02h-1.3zM367.75 60.41h1.3v3.02h-1.3zM368.61 58.69h1.3v2.16h-1.3zM369.47 56.97h1.3v2.16h-1.3zM370.33 55.25h1.3v2.16h-1.3zM371.19 53.53h1.3v2.16h-1.3zM372.05 52.67h1.3v1.30h-1.3zM372.91 51.81h1.3v1.30h-1.3zM373.77 51.81h1.3v1.30h-1.3zM374.63 51.81h1.3v1.30h-1.3zM375.49 52.67h1.3v1.30h-1.3zM376.35 53.53h1.3v1.30h-1.3zM377.21 54.39h1.3v1.30h-1.3zM378.07 55.25h1.3v2.16h-1.3zM378.93 56.97h1.3v3.02h-1.3zM379.79 59.55h1.3v3.02h-1.3zM380.65 62.13h1.3v3.02h-1.3zM381.51 64.71h1.3v3.02h-1.3zM382.37 67.29h1.3v3.02h-1.3zM383.23 69.87h1.3v3.88h-1.3zM384.09 73.31h1.3v3.02h-1.3zM384.95 75.89h1.3v3.88h-1.3zM385.81 79.33h1.3v3.88h-1.3zM386.67 82.77h1.3v3.88h-1.3zM387.53 86.21h1.3v3.02h-1.3zM388.39 88.79h1.3v3.88h-1.3zM389.25 92.23h1.3v3.02h-1.3zM390.11 94.81h1.3v3.02h-1.3zM390.97 97.39h1.3v3.02h-1.3zM391.83 99.97h1.3v2.16h-1.3zM392.69 101.69h1.3v2.16h-1.3zM393.55 103.41h1.3v2.16h-1.3zM394.41 105.13h1.3v2.16h-1.3zM395.27 106.85h1.3v1.30h-1.3zM396.13 107.71h1.3v1.30h-1.3zM396.99 107.71h1.3v1.30h-1.3zM397.85 107.71h1.3v1.30h-1.3zM398.71 106.85h1.3v1.30h-1.3zM399.57 105.99h1.3v1.30h-1.3zM400.43 105.13h1.3v1.30h-1.3zM401.29 103.41h1.3v2.16h-1.3zM402.15 100.83h1.3v3.02h-1.3zM403.01 98.25h1.3v3.02h-1.3zM403.87 95.67h1.3v3.02h-1.3zM404.73 93.09h1.3v3.02h-1.3zM405.59 90.51h1.3v3.02h-1.3zM406.45 87.07h1.3v3.88h-1.3zM407.31 84.49h1.3v3.02h-1.3zM408.17 81.05h1.3v3.88h-1.3zM409.03 77.61h1.3v3.88h-1.3zM409.89 74.17h1.3v3.88h-1.3zM410.75 71.59h1.3v3.02h-1.3zM411.61 68.15h1.3v3.88h-1.3zM412.47 65.57h1.3v3.02h-1.3zM413.33 62.99h1.3v3.02h-1.3zM414.19 60.41h1.3v3.02h-1.3zM415.05 58.69h1.3v2.16h-1.3zM415.91 56.97h1.3v2.16h-1.3zM416.77 55.25h1.3v2.16h-1.3zM417.63 53.53h1.3v2.16h-1.3zM418.49 52.67h1.3v1.30h-1.3zM419.35 51.81h1.3v1.30h-1.3zM420.21 51.81h1.3v1.30h-1.3zM421.07 51.81h1.3v1.30h-1.3zM421.93 52.67h1.3v1.30h-1.3zM422.79 53.53h1.3v1.30h-1.3zM423.65 54.39h1.3v1.30h-1.3zM424.51 55.25h1.3v2.16h-1.3zM425.37 56.97h1.3v3.02h-1.3zM426.23 59.55h1.3v3.02h-1.3zM427.09 62.13h1.3v3.02h-1.3zM427.95 64.71h1.3v3.02h-1.3zM428.81 67.29h1.3v3.02h-1.3zM429.67 69.87h1.3v3.88h-1.3zM430.53 73.31h1.3v3.88h-1.3zM431.39 76.75h1.3v3.02h-1.3zM432.25 79.33h1.3v3.88h-1.3zM433.11 82.77h1.3v3.88h-1.3zM433.97 86.21h1.3v3.88h-1.3zM434.83 89.65h1.3v3.02h-1.3zM435.69 92.23h1.3v3.88h-1.3zM436.55 95.67h1.3v3.02h-1.3zM437.41 98.25h1.3v2.16h-1.3zM438.27 99.97h1.3v3.02h-1.3zM439.13 102.55h1.3v2.16h-1.3zM439.99 104.27h1.3v2.16h-1.3zM440.85 105.99h1.3v1.30h-1.3zM441.71 106.85h1.3v1.30h-1.3zM442.57 107.71h1.3v1.30h-1.3zM443.43 107.71h1.3v1.30h-1.3zM444.29 107.71h1.3v1.30h-1.3zM445.15 106.85h1.3v1.30h-1.3zM446.01 105.99h1.3v1.30h-1.3zM446.87 105.13h1.3v1.30h-1.3zM447.73 103.41h1.3v2.16h-1.3zM448.59 100.83h1.3v3.02h-1.3zM449.45 98.25h1.3v3.02h-1.3zM450.31 95.67h1.3v3.02h-1.3zM451.17 93.09h1.3v3.02h-1.3zM452.03 90.51h1.3v3.02h-1.3zM452.89 87.07h1.3v3.88h-1.3zM453.75 83.63h1.3v3.88h-1.3zM454.61 81.05h1.3v3.02h-1.3zM455.47 77.61h1.3v3.88h-1.3zM456.33 74.17h1.3v3.88h-1.3zM457.19 70.73h1.3v3.88h-1.3zM458.05 68.15h1.3v3.02h-1.3zM458.91 64.71h1.3v3.88h-1.3zM459.77 62.13h1.3v3.02h-1.3zM460.63 60.41h1.3v2.16h-1.3zM461.49 57.83h1.3v3.02h-1.3zM462.35 56.11h1.3v2.16h-1.3zM463.21 55.25h1.3v1.30h-1.3zM464.07 53.53h1.3v2.16h-1.3zM464.93 52.67h1.3v1.30h-1.3zM465.79 51.81h1.3v1.30h-1.3zM466.65 51.81h1.3v1.30h-1.3zM467.51 51.81h1.3v1.30h-1.3zM468.37 52.67h1.3v1.30h-1.3zM469.23 53.53h1.3v1.30h-1.3zM470.09 54.39h1.3v2.16h-1.3zM470.95 56.11h1.3v2.16h-1.3zM471.81 57.83h1.3v2.16h-1.3zM472.67 59.55h1.3v3.02h-1.3zM473.53 62.13h1.3v3.02h-1.3zM474.39 64.71h1.3v3.02h-1.3zM475.25 67.29h1.3v3.88h-1.3zM476.11 70.73h1.3v3.02h-1.3zM476.97 73.31h1.3v3.88h-1.3zM477.83 76.75h1.3v3.88h-1.3zM478.69 80.19h1.3v3.88h-1.3zM479.55 83.63h1.3v3.02h-1.3zM480.41 86.21h1.3v3.88h-1.3zM481.27 89.65h1.3v3.88h-1.3zM482.13 93.09h1.3v3.02h-1.3zM482.99 95.67h1.3v3.02h-1.3zM483.85 98.25h1.3v3.02h-1.3zM484.71 100.83h1.3v2.16h-1.3zM485.57 102.55h1.3v2.16h-1.3zM486.43 104.27h1.3v2.16h-1.3zM487.29 105.99h1.3v1.30h-1.3zM488.15 106.85h1.3v1.30h-1.3zM489.01 107.71h1.3v1.30h-1.3zM489.87 107.71h1.3v1.30h-1.3zM490.73 107.71h1.3v1.30h-1.3zM491.59 106.85h1.3v1.30h-1.3zM492.45 105.99h1.3v1.30h-1.3zM493.31 105.13h1.3v1.30h-1.3zM494.17 102.55h1.3v3.02h-1.3zM495.03 100.83h1.3v2.16h-1.3zM495.89 98.25h1.3v3.02h-1.3zM496.75 95.67h1.3v3.02h-1.3zM497.61 93.09h1.3v3.02h-1.3zM498.47 89.65h1.3v3.88h-1.3zM499.33 87.07h1.3v3.02h-1.3zM500.19 83.63h1.3v3.88h-1.3zM501.05 80.19h1.3v3.88h-1.3zM501.91 76.75h1.3v3.88h-1.3zM502.77 74.17h1.3v3.02h-1.3zM503.63 70.73h1.3v3.88h-1.3zM504.49 67.29h1.3v3.88h-1.3zM505.35 64.71h1.3v3.02h-1.3zM506.21 62.13h1.3v3.02h-1.3zM507.07 59.55h1.3v3.02h-1.3zM507.93 57.83h1.3v2.16h-1.3zM508.79 56.11h1.3v2.16h-1.3zM509.65 54.39h1.3v2.16h-1.3zM510.51 53.53h1.3v1.30h-1.3zM511.37 52.67h1.3v1.30h-1.3zM512.23 51.81h1.3v1.30h-1.3zM513.09 51.81h1.3v1.30h-1.3zM513.95 51.81h1.3v1.30h-1.3zM514.81 52.67h1.3v1.30h-1.3zM515.67 53.53h1.3v1.30h-1.3zM516.53 54.39h1.3v2.16h-1.3zM517.39 56.11h1.3v2.16h-1.3zM518.25 57.83h1.3v3.02h-1.3zM519.11 60.41h1.3v3.02h-1.3zM519.97 62.99h1.3v3.02h-1.3zM520.83 65.57h1.3v3.02h-1.3zM521.69 68.15h1.3v3.02h-1.3zM522.55 70.73h1.3v3.88h-1.3zM523.41 74.17h1.3v3.02h-1.3zM524.27 76.75h1.3v3.88h-1.3zM525.13 80.19h1.3v3.88h-1.3zM525.99 83.63h1.3v3.88h-1.3zM526.85 87.07h1.3v3.02h-1.3zM527.71 89.65h1.3v3.88h-1.3zM528.57 93.09h1.3v3.02h-1.3zM529.43 95.67h1.3v3.02h-1.3zM530.29 98.25h1.3v3.02h-1.3zM531.15 100.83h1.3v2.16h-1.3zM532.01 102.55h1.3v2.16h-1.3zM532.87 104.27h1.3v2.16h-1.3zM533.73 105.99h1.3v1.30h-1.3zM534.59 106.85h1.3v1.30h-1.3zM535.45 107.71h1.3v1.30h-1.3zM536.31 107.71h1.3v1.30h-1.3zM537.17 107.71h1.3v1.30h-1.3zM538.03 106.85h1.3v1.30h-1.3zM538.89 105.99h1.3v1.30h-1.3zM539.75 104.27h1.3v2.16h-1.3zM540.61 102.55h1.3v2.16h-1.3zM541.47 100.83h1.3v2.16h-1.3z" fill="#f1ae1c" clip-path="url(#ctr)"/>
<path d="M55.85 210.05h1.3v39.14h-1.3zM56.71 248.75h1.3v6.46h-1.3zM57.57 254.77h1.3v8.18h-1.3zM58.43 262.51h1.3v7.32h-1.3zM59.29 269.39h1.3v7.32h-1.3zM60.15 276.27h1.3v7.32h-1.3zM61.01 283.15h1.3v5.60h-1.3zM61.87 288.31h1.3v5.60h-1.3zM62.73 293.47h1.3v3.02h-1.3zM63.59 296.05h1.3v2.16h-1.3zM64.45 297.77h1.3v1.30h-1.3zM65.31 296.05h1.3v2.16h-1.3zM66.17 291.75h1.3v4.74h-1.3zM67.03 287.45h1.3v4.74h-1.3zM67.89 281.43h1.3v6.46h-1.3zM68.75 274.55h1.3v7.32h-1.3zM69.61 266.81h1.3v8.18h-1.3zM70.47 259.93h1.3v7.32h-1.3zM71.33 253.05h1.3v7.32h-1.3zM72.19 246.17h1.3v7.32h-1.3zM73.05 241.01h1.3v5.60h-1.3zM73.91 237.57h1.3v3.88h-1.3zM74.77 234.99h1.3v3.02h-1.3zM75.63 234.13h1.3v1.30h-1.3zM76.49 234.13h1.3v1.30h-1.3zM77.35 234.99h1.3v3.02h-1.3zM78.21 237.57h1.3v4.74h-1.3zM79.07 241.87h1.3v6.46h-1.3zM79.93 247.89h1.3v6.46h-1.3zM80.79 253.91h1.3v7.32h-1.3zM81.65 260.79h1.3v8.18h-1.3zM82.51 268.53h1.3v7.32h-1.3zM83.37 275.41h1.3v7.32h-1.3zM84.23 282.29h1.3v6.46h-1.3zM85.09 288.31h1.3v4.74h-1.3zM85.95 292.61h1.3v3.88h-1.3zM86.81 296.05h1.3v2.16h-1.3zM87.67 297.77h1.3v1.30h-1.3zM88.53 296.05h1.3v2.16h-1.3zM89.39 292.61h1.3v3.88h-1.3zM90.25 288.31h1.3v4.74h-1.3zM91.11 282.29h1.3v6.46h-1.3zM91.97 275.41h1.3v7.32h-1.3zM92.83 267.67h1.3v8.18h-1.3zM93.69 260.79h1.3v7.32h-1.3zM94.55 253.91h1.3v7.32h-1.3zM95.41 247.03h1.3v7.32h-1.3zM96.27 241.87h1.3v5.60h-1.3zM97.13 238.43h1.3v3.88h-1.3zM97.99 235.85h1.3v3.02h-1.3zM98.85 234.13h1.3v2.16h-1.3zM99.71 234.13h1.3v1.30h-1.3zM100.57 234.99h1.3v3.02h-1.3zM101.43 237.57h1.3v4.74h-1.3zM102.29 241.87h1.3v5.60h-1.3zM103.15 247.03h1.3v6.46h-1.3zM104.01 253.05h1.3v7.32h-1.3zM104.87 259.93h1.3v8.18h-1.3zM105.73 267.67h1.3v7.32h-1.3zM106.59 274.55h1.3v7.32h-1.3zM107.45 281.43h1.3v6.46h-1.3zM108.31 287.45h1.3v5.60h-1.3zM109.17 292.61h1.3v3.88h-1.3zM110.03 296.05h1.3v2.16h-1.3zM110.89 297.77h1.3v1.30h-1.3zM111.75 296.05h1.3v2.16h-1.3zM112.61 293.47h1.3v3.02h-1.3zM113.47 289.17h1.3v4.74h-1.3zM114.33 283.15h1.3v6.46h-1.3zM115.19 276.27h1.3v7.32h-1.3zM116.05 268.53h1.3v8.18h-1.3zM116.91 261.65h1.3v7.32h-1.3zM117.77 254.77h1.3v7.32h-1.3zM118.63 247.89h1.3v7.32h-1.3zM119.49 242.73h1.3v5.60h-1.3zM120.35 238.43h1.3v4.74h-1.3zM121.21 235.85h1.3v3.02h-1.3zM122.07 234.13h1.3v2.16h-1.3zM122.93 234.13h1.3v1.30h-1.3zM123.79 234.99h1.3v2.16h-1.3zM124.65 236.71h1.3v4.74h-1.3zM125.51 241.01h1.3v5.60h-1.3zM126.37 246.17h1.3v6.46h-1.3zM127.23 252.19h1.3v7.32h-1.3zM128.09 259.07h1.3v8.18h-1.3zM128.95 266.81h1.3v7.32h-1.3zM129.81 273.69h1.3v7.32h-1.3zM130.67 280.57h1.3v6.46h-1.3zM131.53 286.59h1.3v5.60h-1.3zM132.39 291.75h1.3v3.88h-1.3zM133.25 295.19h1.3v3.02h-1.3zM134.11 297.77h1.3v1.30h-1.3zM134.97 296.91h1.3v1.30h-1.3zM135.83 293.47h1.3v3.88h-1.3zM136.69 289.17h1.3v4.74h-1.3zM137.55 283.15h1.3v6.46h-1.3zM138.41 277.13h1.3v6.46h-1.3zM139.27 270.25h1.3v7.32h-1.3zM140.13 262.51h1.3v8.18h-1.3zM140.99 255.63h1.3v7.32h-1.3zM141.85 248.75h1.3v7.32h-1.3zM142.71 243.59h1.3v5.60h-1.3zM143.57 238.43h1.3v5.60h-1.3zM144.43 235.85h1.3v3.02h-1.3zM145.29 234.13h1.3v2.16h-1.3zM146.15 234.13h1.3v1.30h-1.3zM147.01 234.99h1.3v2.16h-1.3zM147.87 236.71h1.3v3.88h-1.3zM148.73 240.15h1.3v5.60h-1.3zM149.59 245.31h1.3v6.46h-1.3zM150.45 251.33h1.3v7.32h-1.3zM151.31 258.21h1.3v8.18h-1.3zM152.17 265.95h1.3v7.32h-1.3zM153.03 272.83h1.3v7.32h-1.3zM153.89 279.71h1.3v7.32h-1.3zM154.75 286.59h1.3v5.60h-1.3zM155.61 291.75h1.3v3.88h-1.3zM156.47 295.19h1.3v2.16h-1.3zM157.33 296.91h1.3v2.16h-1.3zM158.19 296.91h1.3v2.16h-1.3zM159.05 294.33h1.3v3.02h-1.3zM159.91 290.03h1.3v4.74h-1.3zM160.77 284.01h1.3v6.46h-1.3zM161.63 277.99h1.3v6.46h-1.3zM162.49 271.11h1.3v7.32h-1.3zM163.35 263.37h1.3v8.18h-1.3zM164.21 256.49h1.3v7.32h-1.3zM165.07 249.61h1.3v7.32h-1.3zM165.93 243.59h1.3v6.46h-1.3zM166.79 239.29h1.3v4.74h-1.3zM167.65 235.85h1.3v3.88h-1.3zM168.51 234.13h1.3v2.16h-1.3zM169.37 233.27h1.3v1.30h-1.3zM170.23 234.13h1.3v3.02h-1.3zM171.09 236.71h1.3v3.88h-1.3zM171.95 240.15h1.3v4.74h-1.3zM172.81 244.45h1.3v6.46h-1.3zM173.67 250.47h1.3v7.32h-1.3zM174.53 257.35h1.3v8.18h-1.3zM175.39 265.09h1.3v7.32h-1.3zM176.25 271.97h1.3v7.32h-1.3zM177.11 278.85h1.3v7.32h-1.3zM177.97 285.73h1.3v5.60h-1.3zM178.83 290.89h1.3v3.88h-1.3zM179.69 294.33h1.3v3.02h-1.3zM180.55 296.91h1.3v2.16h-1.3zM181.41 297.77h1.3v1.30h-1.3zM182.27 295.19h1.3v3.02h-1.3zM183.13 290.89h1.3v4.74h-1.3zM183.99 284.87h1.3v6.46h-1.3zM184.85 278.85h1.3v6.46h-1.3zM185.71 271.97h1.3v7.32h-1.3zM186.57 264.23h1.3v8.18h-1.3zM187.43 257.35h1.3v7.32h-1.3zM188.29 250.47h1.3v7.32h-1.3zM189.15 244.45h1.3v6.46h-1.3zM190.01 239.29h1.3v5.60h-1.3zM190.87 235.85h1.3v3.88h-1.3zM191.73 234.13h1.3v2.16h-1.3zM192.59 233.27h1.3v1.30h-1.3zM193.45 234.13h1.3v2.16h-1.3zM194.31 235.85h1.3v3.88h-1.3zM195.17 239.29h1.3v4.74h-1.3zM196.03 243.59h1.3v6.46h-1.3zM196.89 249.61h1.3v7.32h-1.3zM197.75 256.49h1.3v8.18h-1.3zM198.61 264.23h1.3v7.32h-1.3zM199.47 271.11h1.3v7.32h-1.3zM200.33 277.99h1.3v7.32h-1.3zM201.19 284.87h1.3v5.60h-1.3zM202.05 290.03h1.3v4.74h-1.3zM202.91 294.33h1.3v3.02h-1.3zM203.77 296.91h1.3v2.16h-1.3zM204.63 297.77h1.3v1.30h-1.3zM205.49 295.19h1.3v3.02h-1.3zM206.35 290.89h1.3v4.74h-1.3zM207.21 285.73h1.3v5.60h-1.3zM208.07 279.71h1.3v6.46h-1.3zM208.93 272.83h1.3v7.32h-1.3zM209.79 265.09h1.3v8.18h-1.3zM210.65 258.21h1.3v7.32h-1.3zM211.51 251.33h1.3v7.32h-1.3zM212.37 245.31h1.3v6.46h-1.3zM213.23 240.15h1.3v5.60h-1.3zM214.09 236.71h1.3v3.88h-1.3zM214.95 234.99h1.3v2.16h-1.3zM215.81 233.27h1.3v2.16h-1.3zM216.67 234.13h1.3v2.16h-1.3zM217.53 235.85h1.3v3.02h-1.3zM218.39 238.43h1.3v4.74h-1.3zM219.25 242.73h1.3v6.46h-1.3zM220.11 248.75h1.3v7.32h-1.3zM220.97 255.63h1.3v7.32h-1.3zM221.83 262.51h1.3v8.18h-1.3zM222.69 270.25h1.3v7.32h-1.3zM223.55 277.13h1.3v7.32h-1.3zM224.41 284.01h1.3v5.60h-1.3zM225.27 289.17h1.3v4.74h-1.3zM226.13 293.47h1.3v3.88h-1.3zM226.99 296.91h1.3v2.16h-1.3zM227.85 297.77h1.3v1.30h-1.3zM228.71 295.19h1.3v3.02h-1.3zM229.57 291.75h1.3v3.88h-1.3zM230.43 286.59h1.3v5.60h-1.3zM231.29 280.57h1.3v6.46h-1.3zM232.15 273.69h1.3v7.32h-1.3zM233.01 265.95h1.3v8.18h-1.3zM233.87 259.07h1.3v7.32h-1.3zM234.73 252.19h1.3v7.32h-1.3zM235.59 246.17h1.3v6.46h-1.3zM236.45 241.01h1.3v5.60h-1.3zM237.31 236.71h1.3v4.74h-1.3zM238.17 234.99h1.3v2.16h-1.3zM239.03 234.13h1.3v1.30h-1.3zM239.89 234.13h1.3v1.30h-1.3zM240.75 234.99h1.3v3.88h-1.3zM241.61 238.43h1.3v4.74h-1.3zM242.47 242.73h1.3v6.46h-1.3zM243.33 248.75h1.3v6.46h-1.3zM244.19 254.77h1.3v7.32h-1.3zM245.05 261.65h1.3v8.18h-1.3zM245.91 269.39h1.3v7.32h-1.3zM246.77 276.27h1.3v7.32h-1.3zM247.63 283.15h1.3v5.60h-1.3zM248.49 288.31h1.3v5.60h-1.3zM249.35 293.47h1.3v3.02h-1.3zM250.21 296.05h1.3v2.16h-1.3zM251.07 297.77h1.3v1.30h-1.3zM251.93 296.05h1.3v2.16h-1.3zM252.79 291.75h1.3v4.74h-1.3zM253.65 287.45h1.3v4.74h-1.3zM254.51 281.43h1.3v6.46h-1.3zM255.37 274.55h1.3v7.32h-1.3zM256.23 266.81h1.3v8.18h-1.3zM257.09 259.93h1.3v7.32h-1.3zM257.95 253.05h1.3v7.32h-1.3zM258.81 246.17h1.3v7.32h-1.3zM259.67 241.01h1.3v5.60h-1.3zM260.53 237.57h1.3v3.88h-1.3zM261.39 234.99h1.3v3.02h-1.3zM262.25 234.13h1.3v1.30h-1.3zM263.11 234.13h1.3v1.30h-1.3zM263.97 234.99h1.3v3.02h-1.3zM264.83 237.57h1.3v3.02h-1.3z" fill="#259826" clip-path="url(#cbl)"/>
<path d="M333.35 200.59h1.3v35.70h-1.3zM334.21 196.29h1.3v4.74h-1.3zM335.07 193.71h1.3v3.02h-1.3zM335.93 192.85h1.3v1.30h-1.3zM336.79 193.71h1.3v3.88h-1.3zM337.65 197.15h1.3v5.60h-1.3zM338.51 202.31h1.3v8.18h-1.3zM339.37 210.05h1.3v9.90h-1.3zM340.23 219.51h1.3v10.76h-1.3zM341.09 229.83h1.3v11.62h-1.3zM341.95 241.01h1.3v12.48h-1.3zM342.81 253.05h1.3v10.76h-1.3zM343.67 263.37h1.3v10.76h-1.3zM344.53 273.69h1.3v8.18h-1.3zM345.39 281.43h1.3v6.46h-1.3zM346.25 287.45h1.3v4.74h-1.3zM347.11 291.75h1.3v2.16h-1.3zM347.97 290.89h1.3v2.16h-1.3zM348.83 287.45h1.3v3.88h-1.3zM349.69 280.57h1.3v7.32h-1.3zM350.55 271.97h1.3v9.04h-1.3zM351.41 261.65h1.3v10.76h-1.3zM352.27 250.47h1.3v11.62h-1.3zM353.13 239.29h1.3v11.62h-1.3zM353.99 228.11h1.3v11.62h-1.3zM354.85 217.79h1.3v10.76h-1.3zM355.71 208.33h1.3v9.90h-1.3zM356.57 201.45h1.3v7.32h-1.3zM357.43 196.29h1.3v5.60h-1.3zM358.29 193.71h1.3v3.02h-1.3zM359.15 192.85h1.3v1.30h-1.3zM360.01 193.71h1.3v3.88h-1.3zM360.87 197.15h1.3v5.60h-1.3zM361.73 202.31h1.3v7.32h-1.3zM362.59 209.19h1.3v9.90h-1.3zM363.45 218.65h1.3v11.62h-1.3zM364.31 229.83h1.3v11.62h-1.3zM365.17 241.01h1.3v12.48h-1.3zM366.03 253.05h1.3v10.76h-1.3zM366.89 263.37h1.3v10.76h-1.3zM367.75 273.69h1.3v8.18h-1.3zM368.61 281.43h1.3v6.46h-1.3zM369.47 287.45h1.3v4.74h-1.3zM370.33 291.75h1.3v2.16h-1.3zM371.19 290.89h1.3v2.16h-1.3zM372.05 287.45h1.3v3.88h-1.3zM372.91 280.57h1.3v7.32h-1.3zM373.77 271.97h1.3v9.04h-1.3zM374.63 261.65h1.3v10.76h-1.3zM375.49 250.47h1.3v11.62h-1.3zM376.35 239.29h1.3v11.62h-1.3zM377.21 228.11h1.3v11.62h-1.3zM378.07 217.79h1.3v10.76h-1.3zM378.93 208.33h1.3v9.90h-1.3zM379.79 201.45h1.3v7.32h-1.3zM380.65 196.29h1.3v5.60h-1.3zM381.51 193.71h1.3v3.02h-1.3zM382.37 192.85h1.3v1.30h-1.3zM383.23 193.71h1.3v3.88h-1.3zM384.09 197.15h1.3v5.60h-1.3zM384.95 202.31h1.3v7.32h-1.3zM385.81 209.19h1.3v9.90h-1.3zM386.67 218.65h1.3v11.62h-1.3zM387.53 229.83h1.3v11.62h-1.3zM388.39 241.01h1.3v12.48h-1.3zM389.25 253.05h1.3v10.76h-1.3zM390.11 263.37h1.3v10.76h-1.3zM390.97 273.69h1.3v8.18h-1.3zM391.83 281.43h1.3v6.46h-1.3zM392.69 287.45h1.3v4.74h-1.3zM393.55 291.75h1.3v2.16h-1.3zM394.41 291.75h1.3v2.16h-1.3zM395.27 287.45h1.3v4.74h-1.3zM396.13 280.57h1.3v7.32h-1.3zM396.99 271.97h1.3v9.04h-1.3zM397.85 261.65h1.3v10.76h-1.3zM398.71 250.47h1.3v11.62h-1.3zM399.57 239.29h1.3v11.62h-1.3zM400.43 228.11h1.3v11.62h-1.3zM401.29 217.79h1.3v10.76h-1.3zM402.15 208.33h1.3v9.90h-1.3zM403.01 201.45h1.3v7.32h-1.3zM403.87 196.29h1.3v5.60h-1.3zM404.73 193.71h1.3v3.02h-1.3zM405.59 192.85h1.3v1.30h-1.3zM406.45 193.71h1.3v3.88h-1.3zM407.31 197.15h1.3v5.60h-1.3zM408.17 202.31h1.3v7.32h-1.3zM409.03 209.19h1.3v9.90h-1.3zM409.89 218.65h1.3v11.62h-1.3zM410.75 229.83h1.3v11.62h-1.3zM411.61 241.01h1.3v11.62h-1.3zM412.47 252.19h1.3v11.62h-1.3zM413.33 263.37h1.3v10.76h-1.3zM414.19 273.69h1.3v8.18h-1.3zM415.05 281.43h1.3v6.46h-1.3zM415.91 287.45h1.3v4.74h-1.3zM416.77 291.75h1.3v2.16h-1.3zM417.63 291.75h1.3v2.16h-1.3zM418.49 287.45h1.3v4.74h-1.3zM419.35 280.57h1.3v7.32h-1.3zM420.21 271.97h1.3v9.04h-1.3zM421.07 262.51h1.3v9.90h-1.3zM421.93 251.33h1.3v11.62h-1.3zM422.79 239.29h1.3v12.48h-1.3zM423.65 228.11h1.3v11.62h-1.3zM424.51 217.79h1.3v10.76h-1.3zM425.37 208.33h1.3v9.90h-1.3zM426.23 201.45h1.3v7.32h-1.3zM427.09 196.29h1.3v5.60h-1.3zM427.95 193.71h1.3v3.02h-1.3zM428.81 192.85h1.3v1.30h-1.3zM429.67 193.71h1.3v3.88h-1.3zM430.53 197.15h1.3v5.60h-1.3zM431.39 202.31h1.3v7.32h-1.3zM432.25 209.19h1.3v9.90h-1.3zM433.11 218.65h1.3v11.62h-1.3zM433.97 229.83h1.3v11.62h-1.3zM434.83 241.01h1.3v11.62h-1.3zM435.69 252.19h1.3v11.62h-1.3zM436.55 263.37h1.3v10.76h-1.3zM437.41 273.69h1.3v8.18h-1.3zM438.27 281.43h1.3v6.46h-1.3zM439.13 287.45h1.3v4.74h-1.3zM439.99 291.75h1.3v2.16h-1.3zM440.85 291.75h1.3v2.16h-1.3zM441.71 287.45h1.3v4.74h-1.3zM442.57 280.57h1.3v7.32h-1.3zM443.43 271.97h1.3v9.04h-1.3zM444.29 262.51h1.3v9.90h-1.3zM445.15 251.33h1.3v11.62h-1.3zM446.01 239.29h1.3v12.48h-1.3zM446.87 228.11h1.3v11.62h-1.3zM447.73 217.79h1.3v10.76h-1.3zM448.59 209.19h1.3v9.04h-1.3zM449.45 201.45h1.3v8.18h-1.3zM450.31 196.29h1.3v5.60h-1.3zM451.17 193.71h1.3v3.02h-1.3zM452.03 192.85h1.3v1.30h-1.3zM452.89 193.71h1.3v3.02h-1.3zM453.75 196.29h1.3v5.60h-1.3zM454.61 201.45h1.3v8.18h-1.3zM455.47 209.19h1.3v9.90h-1.3zM456.33 218.65h1.3v11.62h-1.3zM457.19 229.83h1.3v11.62h-1.3zM458.05 241.01h1.3v11.62h-1.3zM458.91 252.19h1.3v11.62h-1.3zM459.77 263.37h1.3v9.90h-1.3zM460.63 272.83h1.3v9.04h-1.3zM461.49 281.43h1.3v6.46h-1.3zM462.35 287.45h1.3v4.74h-1.3zM463.21 291.75h1.3v2.16h-1.3zM464.07 291.75h1.3v2.16h-1.3zM464.93 287.45h1.3v4.74h-1.3zM465.79 280.57h1.3v7.32h-1.3zM466.65 271.97h1.3v9.04h-1.3zM467.51 262.51h1.3v9.90h-1.3zM468.37 251.33h1.3v11.62h-1.3zM469.23 240.15h1.3v11.62h-1.3zM470.09 228.11h1.3v12.48h-1.3zM470.95 217.79h1.3v10.76h-1.3zM471.81 209.19h1.3v9.04h-1.3zM472.67 201.45h1.3v8.18h-1.3zM473.53 196.29h1.3v5.60h-1.3zM474.39 193.71h1.3v3.02h-1.3zM475.25 192.85h1.3v1.30h-1.3zM476.11 193.71h1.3v3.02h-1.3zM476.97 196.29h1.3v5.60h-1.3zM477.83 201.45h1.3v8.18h-1.3zM478.69 209.19h1.3v9.90h-1.3zM479.55 218.65h1.3v11.62h-1.3zM480.41 229.83h1.3v11.62h-1.3zM481.27 241.01h1.3v11.62h-1.3zM482.13 252.19h1.3v11.62h-1.3zM482.99 263.37h1.3v9.90h-1.3zM483.85 272.83h1.3v9.04h-1.3zM484.71 281.43h1.3v6.46h-1.3zM485.57 287.45h1.3v4.74h-1.3zM486.43 291.75h1.3v2.16h-1.3zM487.29 291.75h1.3v2.16h-1.3zM488.15 287.45h1.3v4.74h-1.3zM489.01 280.57h1.3v7.32h-1.3zM489.87 271.97h1.3v9.04h-1.3zM490.73 262.51h1.3v9.90h-1.3zM491.59 251.33h1.3v11.62h-1.3zM492.45 240.15h1.3v11.62h-1.3zM493.31 228.11h1.3v12.48h-1.3zM494.17 217.79h1.3v10.76h-1.3zM495.03 209.19h1.3v9.04h-1.3zM495.89 201.45h1.3v8.18h-1.3zM496.75 196.29h1.3v5.60h-1.3zM497.61 193.71h1.3v3.02h-1.3zM498.47 192.85h1.3v1.30h-1.3zM499.33 193.71h1.3v3.02h-1.3zM500.19 196.29h1.3v5.60h-1.3zM501.05 201.45h1.3v8.18h-1.3zM501.91 209.19h1.3v9.90h-1.3zM502.77 218.65h1.3v10.76h-1.3zM503.63 228.97h1.3v11.62h-1.3zM504.49 240.15h1.3v12.48h-1.3zM505.35 252.19h1.3v10.76h-1.3zM506.21 262.51h1.3v10.76h-1.3zM507.07 272.83h1.3v9.04h-1.3zM507.93 281.43h1.3v6.46h-1.3zM508.79 287.45h1.3v4.74h-1.3zM509.65 291.75h1.3v2.16h-1.3zM510.51 291.75h1.3v2.16h-1.3zM511.37 287.45h1.3v4.74h-1.3zM512.23 280.57h1.3v7.32h-1.3zM513.09 272.83h1.3v8.18h-1.3zM513.95 262.51h1.3v10.76h-1.3zM514.81 251.33h1.3v11.62h-1.3zM515.67 240.15h1.3v11.62h-1.3zM516.53 228.97h1.3v11.62h-1.3zM517.39 218.65h1.3v10.76h-1.3zM518.25 209.19h1.3v9.90h-1.3zM519.11 201.45h1.3v8.18h-1.3zM519.97 196.29h1.3v5.60h-1.3zM520.83 193.71h1.3v3.02h-1.3zM521.69 192.85h1.3v1.30h-1.3zM522.55 193.71h1.3v3.02h-1.3zM523.41 196.29h1.3v5.60h-1.3zM524.27 201.45h1.3v8.18h-1.3zM525.13 209.19h1.3v9.90h-1.3zM525.99 218.65h1.3v10.76h-1.3zM526.85 228.97h1.3v11.62h-1.3zM527.71 240.15h1.3v12.48h-1.3zM528.57 252.19h1.3v10.76h-1.3zM529.43 262.51h1.3v10.76h-1.3zM530.29 272.83h1.3v9.04h-1.3zM531.15 281.43h1.3v6.46h-1.3zM532.01 287.45h1.3v4.74h-1.3zM532.87 291.75h1.3v2.16h-1.3zM533.73 291.75h1.3v2.16h-1.3zM534.59 287.45h1.3v4.74h-1.3zM535.45 281.43h1.3v6.46h-1.3zM536.31 272.83h1.3v9.04h-1.3zM537.17 262.51h1.3v10.76h-1.3zM538.03 251.33h1.3v11.62h-1.3zM538.89 240.15h1.3v11.62h-1.3zM539.75 228.97h1.3v11.62h-1.3zM540.61 218.65h1.3v10.76h-1.3zM541.47 212.63h1.3v6.46h-1.3z" fill="#259826" clip-path="url(#cbr)"/></g></svg>
</body></html>
